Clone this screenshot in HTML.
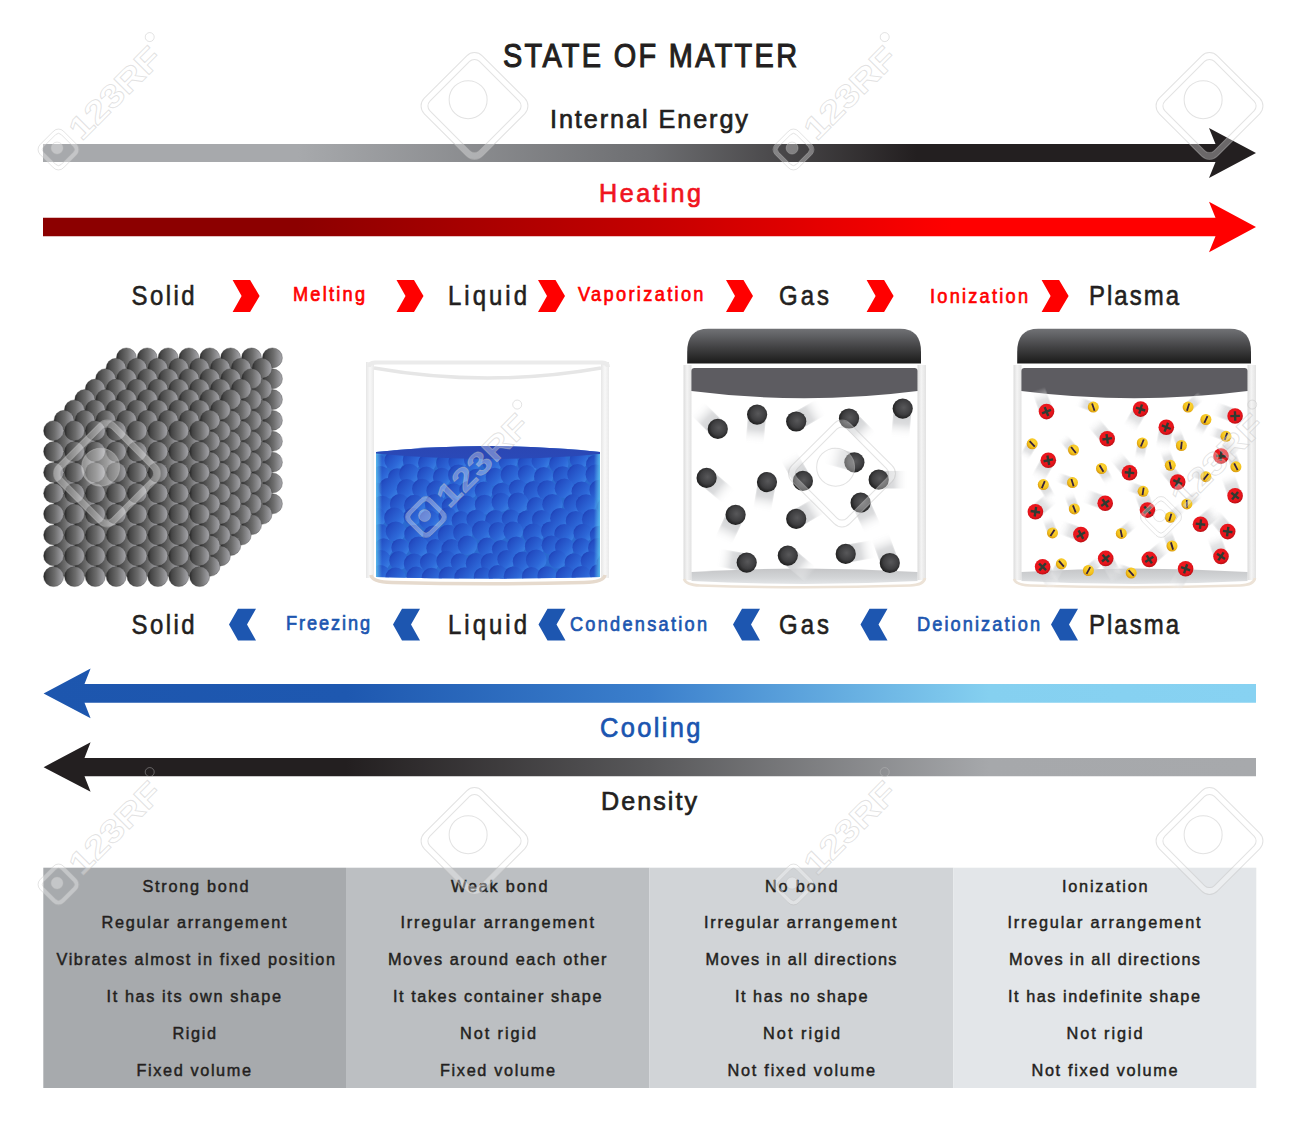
<!DOCTYPE html>
<html><head><meta charset="utf-8"><style>
html,body{margin:0;padding:0;background:#fff;}
body{width:1300px;height:1131px;overflow:hidden;}
svg{display:block;}
text{font-family:"Liberation Sans", sans-serif;}
</style></head><body>
<svg width="1300" height="1131" viewBox="0 0 1300 1131">
<defs>
<linearGradient id="gE" gradientUnits="userSpaceOnUse" x1="43" y1="0" x2="1256" y2="0">
 <stop offset="0" stop-color="#a7a9ac"/><stop offset="0.21" stop-color="#a7a9ac"/>
 <stop offset="0.5" stop-color="#6d6e71"/><stop offset="0.72" stop-color="#231f20"/><stop offset="1" stop-color="#231f20"/></linearGradient>
<linearGradient id="gH" gradientUnits="userSpaceOnUse" x1="43" y1="0" x2="1256" y2="0">
 <stop offset="0" stop-color="#8c0000"/><stop offset="0.21" stop-color="#8c0000"/>
 <stop offset="0.5" stop-color="#c40000"/><stop offset="0.75" stop-color="#ff0000"/><stop offset="1" stop-color="#ff0000"/></linearGradient>
<linearGradient id="gC" gradientUnits="userSpaceOnUse" x1="43" y1="0" x2="1256" y2="0">
 <stop offset="0" stop-color="#1d56ae"/><stop offset="0.25" stop-color="#1e58b0"/>
 <stop offset="0.5" stop-color="#3b7fcc"/><stop offset="0.78" stop-color="#85d0f0"/><stop offset="1" stop-color="#87d2f2"/></linearGradient>
<linearGradient id="gD" gradientUnits="userSpaceOnUse" x1="43" y1="0" x2="1256" y2="0">
 <stop offset="0" stop-color="#231f20"/><stop offset="0.25" stop-color="#231f20"/>
 <stop offset="0.5" stop-color="#58585a"/><stop offset="0.78" stop-color="#a6a8ab"/><stop offset="1" stop-color="#a7a9ac"/></linearGradient>
<linearGradient id="gball" x1="0" y1="0" x2="1" y2="0"><stop offset="0" stop-color="#262626"/><stop offset="0.15" stop-color="#454545"/><stop offset="0.55" stop-color="#6c6c6c"/><stop offset="0.92" stop-color="#9c9ca0"/><stop offset="1" stop-color="#a8a8ac"/></linearGradient><linearGradient id="gwallB" x1="0" y1="0" x2="1" y2="0"><stop offset="0" stop-color="#e6e6e6"/><stop offset="0.5" stop-color="#f8f8f8"/><stop offset="1" stop-color="#e9e9e9"/></linearGradient><circle id="cb" r="10.0" fill="url(#gball)" stroke="#3a3a3a" stroke-width="0.5" stroke-opacity="0.7"/><linearGradient id="gblue" x1="0" y1="0.1" x2="1" y2="0.9"><stop offset="0" stop-color="#1a34a8"/><stop offset="0.2" stop-color="#234dc2"/><stop offset="0.65" stop-color="#2d68d8"/><stop offset="1" stop-color="#3d88e8"/></linearGradient><linearGradient id="gsurf" x1="0" y1="0" x2="0" y2="1"><stop offset="0" stop-color="#2c44ae"/><stop offset="1" stop-color="#2a49b8"/></linearGradient><linearGradient id="gliqbg" x1="0" y1="0" x2="1" y2="0"><stop offset="0" stop-color="#5cc6f0"/><stop offset="0.04" stop-color="#2a6ad0"/><stop offset="0.96" stop-color="#2a6ad0"/><stop offset="1" stop-color="#5cc6f0"/></linearGradient><linearGradient id="gsideL" x1="0" y1="0" x2="1" y2="0"><stop offset="0" stop-color="#62cdf2" stop-opacity="0.95"/><stop offset="1" stop-color="#62cdf2" stop-opacity="0"/></linearGradient><linearGradient id="gsideR" x1="1" y1="0" x2="0" y2="0"><stop offset="0" stop-color="#62cdf2" stop-opacity="0.95"/><stop offset="1" stop-color="#62cdf2" stop-opacity="0"/></linearGradient><clipPath id="liqclip"><path d="M376,452 Q488,440 600,452 L600,577 Q488,580 376,577 Z"/></clipPath><linearGradient id="glid" x1="0" y1="0" x2="0" y2="1"><stop offset="0" stop-color="#707175"/><stop offset="0.15" stop-color="#646568"/><stop offset="0.5" stop-color="#454547"/><stop offset="0.85" stop-color="#272727"/><stop offset="1" stop-color="#1a1a1a"/></linearGradient><linearGradient id="gwallL" x1="0" y1="0" x2="1" y2="0"><stop offset="0" stop-color="#dcdcdc"/><stop offset="0.45" stop-color="#f4f4f4"/><stop offset="1" stop-color="#e2e2e2"/></linearGradient><linearGradient id="gbase" x1="0" y1="0" x2="0" y2="1"><stop offset="0" stop-color="#c4c5c7"/><stop offset="0.6" stop-color="#d3d5d7"/><stop offset="1" stop-color="#e3e5e7"/></linearGradient><linearGradient id="gtrail" x1="0" y1="0" x2="1" y2="0"><stop offset="0" stop-color="#c6c8ca" stop-opacity="1"/><stop offset="0.5" stop-color="#d6d7d9" stop-opacity="0.85"/><stop offset="1" stop-color="#ffffff" stop-opacity="0"/></linearGradient><radialGradient id="ggas" cx="0.55" cy="0.45" r="0.55"><stop offset="0" stop-color="#58585a"/><stop offset="0.65" stop-color="#3e3e40"/><stop offset="1" stop-color="#202020"/></radialGradient><filter id="blur1" x="-30%" y="-50%" width="160%" height="200%"><feGaussianBlur stdDeviation="0.7"/></filter><radialGradient id="gred" cx="0.45" cy="0.4" r="0.6"><stop offset="0" stop-color="#f31a1f"/><stop offset="0.75" stop-color="#e5141b"/><stop offset="1" stop-color="#b80f14"/></radialGradient><radialGradient id="gyel" cx="0.6" cy="0.35" r="0.65"><stop offset="0" stop-color="#ffd83a"/><stop offset="0.7" stop-color="#f2c01a"/><stop offset="1" stop-color="#d99a10"/></radialGradient></defs>
<path d="M43,144 L1215.5,144 L1209,128 L1256,153.0 L1209,178 L1215.5,162 L43,162 Z" fill="url(#gE)"/><path d="M43,217.7 L1215.5,217.7 L1209,201.7 L1256,226.95 L1209,252.2 L1215.5,236.2 L43,236.2 Z" fill="url(#gH)"/><path d="M1256,684.1 L84.5,684.1 L90.6,668.4 L43.6,693.4000000000001 L90.6,718.2 L84.5,702.7 L1256,702.7 Z" fill="url(#gC)"/><path d="M1256,758 L84.5,758 L90.6,742.3 L43.6,767.15 L90.6,791.8 L84.5,776.3 L1256,776.3 Z" fill="url(#gD)"/><path d="M232.6,280 L250.1,280 L259.6,296.0 L250.1,312 L232.6,312 L241.6,296.0 Z" fill="#ff0000"/><path d="M396.5,280 L414.0,280 L423.5,296.0 L414.0,312 L396.5,312 L405.5,296.0 Z" fill="#ff0000"/><path d="M538,280 L555.5,280 L565,296.0 L555.5,312 L538,312 L547,296.0 Z" fill="#ff0000"/><path d="M726,280 L743.5,280 L753,296.0 L743.5,312 L726,312 L735,296.0 Z" fill="#ff0000"/><path d="M866.6,280 L884.1,280 L893.6,296.0 L884.1,312 L866.6,312 L875.6,296.0 Z" fill="#ff0000"/><path d="M1041.6,280 L1059.1,280 L1068.6,296.0 L1059.1,312 L1041.6,312 L1050.6,296.0 Z" fill="#ff0000"/><path d="M229,624.5999999999999 L238,608.8 L256,608.8 L247,624.5999999999999 L256,640.4 L238,640.4 Z" fill="#1d56b0"/><path d="M393,624.5999999999999 L402,608.8 L420,608.8 L411,624.5999999999999 L420,640.4 L402,640.4 Z" fill="#1d56b0"/><path d="M538.5,624.5999999999999 L547.5,608.8 L565.5,608.8 L556.5,624.5999999999999 L565.5,640.4 L547.5,640.4 Z" fill="#1d56b0"/><path d="M733,624.5999999999999 L742,608.8 L760,608.8 L751,624.5999999999999 L760,640.4 L742,640.4 Z" fill="#1d56b0"/><path d="M860.5,624.5999999999999 L869.5,608.8 L887.5,608.8 L878.5,624.5999999999999 L887.5,640.4 L869.5,640.4 Z" fill="#1d56b0"/><path d="M1051,624.5999999999999 L1060,608.8 L1078,608.8 L1069,624.5999999999999 L1078,640.4 L1060,640.4 Z" fill="#1d56b0"/><rect x="43.3" y="867.7" width="302.7" height="220.3" fill="#a7aaad"/><rect x="346" y="867.7" width="303.5" height="220.3" fill="#bcbfc2"/><rect x="649.5" y="867.7" width="303.7" height="220.3" fill="#d1d4d7"/><rect x="953.2" y="867.7" width="303.1" height="220.3" fill="#e3e6e9"/><use href="#cb" x="126.4" y="357.9"/><use href="#cb" x="147.2" y="357.9"/><use href="#cb" x="168.1" y="357.9"/><use href="#cb" x="188.9" y="357.9"/><use href="#cb" x="209.8" y="357.9"/><use href="#cb" x="230.6" y="357.9"/><use href="#cb" x="251.5" y="357.9"/><use href="#cb" x="272.4" y="357.9"/><use href="#cb" x="126.4" y="378.8"/><use href="#cb" x="147.2" y="378.8"/><use href="#cb" x="168.1" y="378.8"/><use href="#cb" x="188.9" y="378.8"/><use href="#cb" x="209.8" y="378.8"/><use href="#cb" x="230.6" y="378.8"/><use href="#cb" x="251.5" y="378.8"/><use href="#cb" x="272.4" y="378.8"/><use href="#cb" x="126.4" y="399.6"/><use href="#cb" x="147.2" y="399.6"/><use href="#cb" x="168.1" y="399.6"/><use href="#cb" x="188.9" y="399.6"/><use href="#cb" x="209.8" y="399.6"/><use href="#cb" x="230.6" y="399.6"/><use href="#cb" x="251.5" y="399.6"/><use href="#cb" x="272.4" y="399.6"/><use href="#cb" x="126.4" y="420.4"/><use href="#cb" x="147.2" y="420.4"/><use href="#cb" x="168.1" y="420.4"/><use href="#cb" x="188.9" y="420.4"/><use href="#cb" x="209.8" y="420.4"/><use href="#cb" x="230.6" y="420.4"/><use href="#cb" x="251.5" y="420.4"/><use href="#cb" x="272.4" y="420.4"/><use href="#cb" x="126.4" y="441.3"/><use href="#cb" x="147.2" y="441.3"/><use href="#cb" x="168.1" y="441.3"/><use href="#cb" x="188.9" y="441.3"/><use href="#cb" x="209.8" y="441.3"/><use href="#cb" x="230.6" y="441.3"/><use href="#cb" x="251.5" y="441.3"/><use href="#cb" x="272.4" y="441.3"/><use href="#cb" x="126.4" y="462.2"/><use href="#cb" x="147.2" y="462.2"/><use href="#cb" x="168.1" y="462.2"/><use href="#cb" x="188.9" y="462.2"/><use href="#cb" x="209.8" y="462.2"/><use href="#cb" x="230.6" y="462.2"/><use href="#cb" x="251.5" y="462.2"/><use href="#cb" x="272.4" y="462.2"/><use href="#cb" x="126.4" y="483.0"/><use href="#cb" x="147.2" y="483.0"/><use href="#cb" x="168.1" y="483.0"/><use href="#cb" x="188.9" y="483.0"/><use href="#cb" x="209.8" y="483.0"/><use href="#cb" x="230.6" y="483.0"/><use href="#cb" x="251.5" y="483.0"/><use href="#cb" x="272.4" y="483.0"/><use href="#cb" x="126.4" y="503.8"/><use href="#cb" x="147.2" y="503.8"/><use href="#cb" x="168.1" y="503.8"/><use href="#cb" x="188.9" y="503.8"/><use href="#cb" x="209.8" y="503.8"/><use href="#cb" x="230.6" y="503.8"/><use href="#cb" x="251.5" y="503.8"/><use href="#cb" x="272.4" y="503.8"/><use href="#cb" x="116.0" y="368.3"/><use href="#cb" x="136.9" y="368.3"/><use href="#cb" x="157.7" y="368.3"/><use href="#cb" x="178.6" y="368.3"/><use href="#cb" x="199.4" y="368.3"/><use href="#cb" x="220.2" y="368.3"/><use href="#cb" x="241.1" y="368.3"/><use href="#cb" x="262.0" y="368.3"/><use href="#cb" x="116.0" y="389.1"/><use href="#cb" x="136.9" y="389.1"/><use href="#cb" x="157.7" y="389.1"/><use href="#cb" x="178.6" y="389.1"/><use href="#cb" x="199.4" y="389.1"/><use href="#cb" x="220.2" y="389.1"/><use href="#cb" x="241.1" y="389.1"/><use href="#cb" x="262.0" y="389.1"/><use href="#cb" x="116.0" y="410.0"/><use href="#cb" x="136.9" y="410.0"/><use href="#cb" x="157.7" y="410.0"/><use href="#cb" x="178.6" y="410.0"/><use href="#cb" x="199.4" y="410.0"/><use href="#cb" x="220.2" y="410.0"/><use href="#cb" x="241.1" y="410.0"/><use href="#cb" x="262.0" y="410.0"/><use href="#cb" x="116.0" y="430.9"/><use href="#cb" x="136.9" y="430.9"/><use href="#cb" x="157.7" y="430.9"/><use href="#cb" x="178.6" y="430.9"/><use href="#cb" x="199.4" y="430.9"/><use href="#cb" x="220.2" y="430.9"/><use href="#cb" x="241.1" y="430.9"/><use href="#cb" x="262.0" y="430.9"/><use href="#cb" x="116.0" y="451.7"/><use href="#cb" x="136.9" y="451.7"/><use href="#cb" x="157.7" y="451.7"/><use href="#cb" x="178.6" y="451.7"/><use href="#cb" x="199.4" y="451.7"/><use href="#cb" x="220.2" y="451.7"/><use href="#cb" x="241.1" y="451.7"/><use href="#cb" x="262.0" y="451.7"/><use href="#cb" x="116.0" y="472.6"/><use href="#cb" x="136.9" y="472.6"/><use href="#cb" x="157.7" y="472.6"/><use href="#cb" x="178.6" y="472.6"/><use href="#cb" x="199.4" y="472.6"/><use href="#cb" x="220.2" y="472.6"/><use href="#cb" x="241.1" y="472.6"/><use href="#cb" x="262.0" y="472.6"/><use href="#cb" x="116.0" y="493.4"/><use href="#cb" x="136.9" y="493.4"/><use href="#cb" x="157.7" y="493.4"/><use href="#cb" x="178.6" y="493.4"/><use href="#cb" x="199.4" y="493.4"/><use href="#cb" x="220.2" y="493.4"/><use href="#cb" x="241.1" y="493.4"/><use href="#cb" x="262.0" y="493.4"/><use href="#cb" x="116.0" y="514.2"/><use href="#cb" x="136.9" y="514.2"/><use href="#cb" x="157.7" y="514.2"/><use href="#cb" x="178.6" y="514.2"/><use href="#cb" x="199.4" y="514.2"/><use href="#cb" x="220.2" y="514.2"/><use href="#cb" x="241.1" y="514.2"/><use href="#cb" x="262.0" y="514.2"/><use href="#cb" x="105.6" y="378.7"/><use href="#cb" x="126.5" y="378.7"/><use href="#cb" x="147.3" y="378.7"/><use href="#cb" x="168.2" y="378.7"/><use href="#cb" x="189.0" y="378.7"/><use href="#cb" x="209.8" y="378.7"/><use href="#cb" x="230.7" y="378.7"/><use href="#cb" x="251.6" y="378.7"/><use href="#cb" x="105.6" y="399.6"/><use href="#cb" x="126.5" y="399.6"/><use href="#cb" x="147.3" y="399.6"/><use href="#cb" x="168.2" y="399.6"/><use href="#cb" x="189.0" y="399.6"/><use href="#cb" x="209.8" y="399.6"/><use href="#cb" x="230.7" y="399.6"/><use href="#cb" x="251.6" y="399.6"/><use href="#cb" x="105.6" y="420.4"/><use href="#cb" x="126.5" y="420.4"/><use href="#cb" x="147.3" y="420.4"/><use href="#cb" x="168.2" y="420.4"/><use href="#cb" x="189.0" y="420.4"/><use href="#cb" x="209.8" y="420.4"/><use href="#cb" x="230.7" y="420.4"/><use href="#cb" x="251.6" y="420.4"/><use href="#cb" x="105.6" y="441.2"/><use href="#cb" x="126.5" y="441.2"/><use href="#cb" x="147.3" y="441.2"/><use href="#cb" x="168.2" y="441.2"/><use href="#cb" x="189.0" y="441.2"/><use href="#cb" x="209.8" y="441.2"/><use href="#cb" x="230.7" y="441.2"/><use href="#cb" x="251.6" y="441.2"/><use href="#cb" x="105.6" y="462.1"/><use href="#cb" x="126.5" y="462.1"/><use href="#cb" x="147.3" y="462.1"/><use href="#cb" x="168.2" y="462.1"/><use href="#cb" x="189.0" y="462.1"/><use href="#cb" x="209.8" y="462.1"/><use href="#cb" x="230.7" y="462.1"/><use href="#cb" x="251.6" y="462.1"/><use href="#cb" x="105.6" y="483.0"/><use href="#cb" x="126.5" y="483.0"/><use href="#cb" x="147.3" y="483.0"/><use href="#cb" x="168.2" y="483.0"/><use href="#cb" x="189.0" y="483.0"/><use href="#cb" x="209.8" y="483.0"/><use href="#cb" x="230.7" y="483.0"/><use href="#cb" x="251.6" y="483.0"/><use href="#cb" x="105.6" y="503.8"/><use href="#cb" x="126.5" y="503.8"/><use href="#cb" x="147.3" y="503.8"/><use href="#cb" x="168.2" y="503.8"/><use href="#cb" x="189.0" y="503.8"/><use href="#cb" x="209.8" y="503.8"/><use href="#cb" x="230.7" y="503.8"/><use href="#cb" x="251.6" y="503.8"/><use href="#cb" x="105.6" y="524.6"/><use href="#cb" x="126.5" y="524.6"/><use href="#cb" x="147.3" y="524.6"/><use href="#cb" x="168.2" y="524.6"/><use href="#cb" x="189.0" y="524.6"/><use href="#cb" x="209.8" y="524.6"/><use href="#cb" x="230.7" y="524.6"/><use href="#cb" x="251.6" y="524.6"/><use href="#cb" x="95.2" y="389.1"/><use href="#cb" x="116.1" y="389.1"/><use href="#cb" x="136.9" y="389.1"/><use href="#cb" x="157.8" y="389.1"/><use href="#cb" x="178.6" y="389.1"/><use href="#cb" x="199.4" y="389.1"/><use href="#cb" x="220.3" y="389.1"/><use href="#cb" x="241.2" y="389.1"/><use href="#cb" x="95.2" y="409.9"/><use href="#cb" x="116.1" y="409.9"/><use href="#cb" x="136.9" y="409.9"/><use href="#cb" x="157.8" y="409.9"/><use href="#cb" x="178.6" y="409.9"/><use href="#cb" x="199.4" y="409.9"/><use href="#cb" x="220.3" y="409.9"/><use href="#cb" x="241.2" y="409.9"/><use href="#cb" x="95.2" y="430.8"/><use href="#cb" x="116.1" y="430.8"/><use href="#cb" x="136.9" y="430.8"/><use href="#cb" x="157.8" y="430.8"/><use href="#cb" x="178.6" y="430.8"/><use href="#cb" x="199.4" y="430.8"/><use href="#cb" x="220.3" y="430.8"/><use href="#cb" x="241.2" y="430.8"/><use href="#cb" x="95.2" y="451.6"/><use href="#cb" x="116.1" y="451.6"/><use href="#cb" x="136.9" y="451.6"/><use href="#cb" x="157.8" y="451.6"/><use href="#cb" x="178.6" y="451.6"/><use href="#cb" x="199.4" y="451.6"/><use href="#cb" x="220.3" y="451.6"/><use href="#cb" x="241.2" y="451.6"/><use href="#cb" x="95.2" y="472.5"/><use href="#cb" x="116.1" y="472.5"/><use href="#cb" x="136.9" y="472.5"/><use href="#cb" x="157.8" y="472.5"/><use href="#cb" x="178.6" y="472.5"/><use href="#cb" x="199.4" y="472.5"/><use href="#cb" x="220.3" y="472.5"/><use href="#cb" x="241.2" y="472.5"/><use href="#cb" x="95.2" y="493.4"/><use href="#cb" x="116.1" y="493.4"/><use href="#cb" x="136.9" y="493.4"/><use href="#cb" x="157.8" y="493.4"/><use href="#cb" x="178.6" y="493.4"/><use href="#cb" x="199.4" y="493.4"/><use href="#cb" x="220.3" y="493.4"/><use href="#cb" x="241.2" y="493.4"/><use href="#cb" x="95.2" y="514.2"/><use href="#cb" x="116.1" y="514.2"/><use href="#cb" x="136.9" y="514.2"/><use href="#cb" x="157.8" y="514.2"/><use href="#cb" x="178.6" y="514.2"/><use href="#cb" x="199.4" y="514.2"/><use href="#cb" x="220.3" y="514.2"/><use href="#cb" x="241.2" y="514.2"/><use href="#cb" x="95.2" y="535.0"/><use href="#cb" x="116.1" y="535.0"/><use href="#cb" x="136.9" y="535.0"/><use href="#cb" x="157.8" y="535.0"/><use href="#cb" x="178.6" y="535.0"/><use href="#cb" x="199.4" y="535.0"/><use href="#cb" x="220.3" y="535.0"/><use href="#cb" x="241.2" y="535.0"/><use href="#cb" x="84.8" y="399.5"/><use href="#cb" x="105.7" y="399.5"/><use href="#cb" x="126.5" y="399.5"/><use href="#cb" x="147.4" y="399.5"/><use href="#cb" x="168.2" y="399.5"/><use href="#cb" x="189.1" y="399.5"/><use href="#cb" x="209.9" y="399.5"/><use href="#cb" x="230.8" y="399.5"/><use href="#cb" x="84.8" y="420.4"/><use href="#cb" x="105.7" y="420.4"/><use href="#cb" x="126.5" y="420.4"/><use href="#cb" x="147.4" y="420.4"/><use href="#cb" x="168.2" y="420.4"/><use href="#cb" x="189.1" y="420.4"/><use href="#cb" x="209.9" y="420.4"/><use href="#cb" x="230.8" y="420.4"/><use href="#cb" x="84.8" y="441.2"/><use href="#cb" x="105.7" y="441.2"/><use href="#cb" x="126.5" y="441.2"/><use href="#cb" x="147.4" y="441.2"/><use href="#cb" x="168.2" y="441.2"/><use href="#cb" x="189.1" y="441.2"/><use href="#cb" x="209.9" y="441.2"/><use href="#cb" x="230.8" y="441.2"/><use href="#cb" x="84.8" y="462.1"/><use href="#cb" x="105.7" y="462.1"/><use href="#cb" x="126.5" y="462.1"/><use href="#cb" x="147.4" y="462.1"/><use href="#cb" x="168.2" y="462.1"/><use href="#cb" x="189.1" y="462.1"/><use href="#cb" x="209.9" y="462.1"/><use href="#cb" x="230.8" y="462.1"/><use href="#cb" x="84.8" y="482.9"/><use href="#cb" x="105.7" y="482.9"/><use href="#cb" x="126.5" y="482.9"/><use href="#cb" x="147.4" y="482.9"/><use href="#cb" x="168.2" y="482.9"/><use href="#cb" x="189.1" y="482.9"/><use href="#cb" x="209.9" y="482.9"/><use href="#cb" x="230.8" y="482.9"/><use href="#cb" x="84.8" y="503.8"/><use href="#cb" x="105.7" y="503.8"/><use href="#cb" x="126.5" y="503.8"/><use href="#cb" x="147.4" y="503.8"/><use href="#cb" x="168.2" y="503.8"/><use href="#cb" x="189.1" y="503.8"/><use href="#cb" x="209.9" y="503.8"/><use href="#cb" x="230.8" y="503.8"/><use href="#cb" x="84.8" y="524.6"/><use href="#cb" x="105.7" y="524.6"/><use href="#cb" x="126.5" y="524.6"/><use href="#cb" x="147.4" y="524.6"/><use href="#cb" x="168.2" y="524.6"/><use href="#cb" x="189.1" y="524.6"/><use href="#cb" x="209.9" y="524.6"/><use href="#cb" x="230.8" y="524.6"/><use href="#cb" x="84.8" y="545.4"/><use href="#cb" x="105.7" y="545.4"/><use href="#cb" x="126.5" y="545.4"/><use href="#cb" x="147.4" y="545.4"/><use href="#cb" x="168.2" y="545.4"/><use href="#cb" x="189.1" y="545.4"/><use href="#cb" x="209.9" y="545.4"/><use href="#cb" x="230.8" y="545.4"/><use href="#cb" x="74.4" y="409.9"/><use href="#cb" x="95.2" y="409.9"/><use href="#cb" x="116.1" y="409.9"/><use href="#cb" x="137.0" y="409.9"/><use href="#cb" x="157.8" y="409.9"/><use href="#cb" x="178.7" y="409.9"/><use href="#cb" x="199.5" y="409.9"/><use href="#cb" x="220.4" y="409.9"/><use href="#cb" x="74.4" y="430.8"/><use href="#cb" x="95.2" y="430.8"/><use href="#cb" x="116.1" y="430.8"/><use href="#cb" x="137.0" y="430.8"/><use href="#cb" x="157.8" y="430.8"/><use href="#cb" x="178.7" y="430.8"/><use href="#cb" x="199.5" y="430.8"/><use href="#cb" x="220.4" y="430.8"/><use href="#cb" x="74.4" y="451.6"/><use href="#cb" x="95.2" y="451.6"/><use href="#cb" x="116.1" y="451.6"/><use href="#cb" x="137.0" y="451.6"/><use href="#cb" x="157.8" y="451.6"/><use href="#cb" x="178.7" y="451.6"/><use href="#cb" x="199.5" y="451.6"/><use href="#cb" x="220.4" y="451.6"/><use href="#cb" x="74.4" y="472.4"/><use href="#cb" x="95.2" y="472.4"/><use href="#cb" x="116.1" y="472.4"/><use href="#cb" x="137.0" y="472.4"/><use href="#cb" x="157.8" y="472.4"/><use href="#cb" x="178.7" y="472.4"/><use href="#cb" x="199.5" y="472.4"/><use href="#cb" x="220.4" y="472.4"/><use href="#cb" x="74.4" y="493.3"/><use href="#cb" x="95.2" y="493.3"/><use href="#cb" x="116.1" y="493.3"/><use href="#cb" x="137.0" y="493.3"/><use href="#cb" x="157.8" y="493.3"/><use href="#cb" x="178.7" y="493.3"/><use href="#cb" x="199.5" y="493.3"/><use href="#cb" x="220.4" y="493.3"/><use href="#cb" x="74.4" y="514.2"/><use href="#cb" x="95.2" y="514.2"/><use href="#cb" x="116.1" y="514.2"/><use href="#cb" x="137.0" y="514.2"/><use href="#cb" x="157.8" y="514.2"/><use href="#cb" x="178.7" y="514.2"/><use href="#cb" x="199.5" y="514.2"/><use href="#cb" x="220.4" y="514.2"/><use href="#cb" x="74.4" y="535.0"/><use href="#cb" x="95.2" y="535.0"/><use href="#cb" x="116.1" y="535.0"/><use href="#cb" x="137.0" y="535.0"/><use href="#cb" x="157.8" y="535.0"/><use href="#cb" x="178.7" y="535.0"/><use href="#cb" x="199.5" y="535.0"/><use href="#cb" x="220.4" y="535.0"/><use href="#cb" x="74.4" y="555.9"/><use href="#cb" x="95.2" y="555.9"/><use href="#cb" x="116.1" y="555.9"/><use href="#cb" x="137.0" y="555.9"/><use href="#cb" x="157.8" y="555.9"/><use href="#cb" x="178.7" y="555.9"/><use href="#cb" x="199.5" y="555.9"/><use href="#cb" x="220.4" y="555.9"/><use href="#cb" x="64.0" y="420.3"/><use href="#cb" x="84.9" y="420.3"/><use href="#cb" x="105.7" y="420.3"/><use href="#cb" x="126.6" y="420.3"/><use href="#cb" x="147.4" y="420.3"/><use href="#cb" x="168.2" y="420.3"/><use href="#cb" x="189.1" y="420.3"/><use href="#cb" x="210.0" y="420.3"/><use href="#cb" x="64.0" y="441.2"/><use href="#cb" x="84.9" y="441.2"/><use href="#cb" x="105.7" y="441.2"/><use href="#cb" x="126.6" y="441.2"/><use href="#cb" x="147.4" y="441.2"/><use href="#cb" x="168.2" y="441.2"/><use href="#cb" x="189.1" y="441.2"/><use href="#cb" x="210.0" y="441.2"/><use href="#cb" x="64.0" y="462.0"/><use href="#cb" x="84.9" y="462.0"/><use href="#cb" x="105.7" y="462.0"/><use href="#cb" x="126.6" y="462.0"/><use href="#cb" x="147.4" y="462.0"/><use href="#cb" x="168.2" y="462.0"/><use href="#cb" x="189.1" y="462.0"/><use href="#cb" x="210.0" y="462.0"/><use href="#cb" x="64.0" y="482.9"/><use href="#cb" x="84.9" y="482.9"/><use href="#cb" x="105.7" y="482.9"/><use href="#cb" x="126.6" y="482.9"/><use href="#cb" x="147.4" y="482.9"/><use href="#cb" x="168.2" y="482.9"/><use href="#cb" x="189.1" y="482.9"/><use href="#cb" x="210.0" y="482.9"/><use href="#cb" x="64.0" y="503.7"/><use href="#cb" x="84.9" y="503.7"/><use href="#cb" x="105.7" y="503.7"/><use href="#cb" x="126.6" y="503.7"/><use href="#cb" x="147.4" y="503.7"/><use href="#cb" x="168.2" y="503.7"/><use href="#cb" x="189.1" y="503.7"/><use href="#cb" x="210.0" y="503.7"/><use href="#cb" x="64.0" y="524.6"/><use href="#cb" x="84.9" y="524.6"/><use href="#cb" x="105.7" y="524.6"/><use href="#cb" x="126.6" y="524.6"/><use href="#cb" x="147.4" y="524.6"/><use href="#cb" x="168.2" y="524.6"/><use href="#cb" x="189.1" y="524.6"/><use href="#cb" x="210.0" y="524.6"/><use href="#cb" x="64.0" y="545.4"/><use href="#cb" x="84.9" y="545.4"/><use href="#cb" x="105.7" y="545.4"/><use href="#cb" x="126.6" y="545.4"/><use href="#cb" x="147.4" y="545.4"/><use href="#cb" x="168.2" y="545.4"/><use href="#cb" x="189.1" y="545.4"/><use href="#cb" x="210.0" y="545.4"/><use href="#cb" x="64.0" y="566.2"/><use href="#cb" x="84.9" y="566.2"/><use href="#cb" x="105.7" y="566.2"/><use href="#cb" x="126.6" y="566.2"/><use href="#cb" x="147.4" y="566.2"/><use href="#cb" x="168.2" y="566.2"/><use href="#cb" x="189.1" y="566.2"/><use href="#cb" x="210.0" y="566.2"/><use href="#cb" x="53.6" y="430.7"/><use href="#cb" x="74.5" y="430.7"/><use href="#cb" x="95.3" y="430.7"/><use href="#cb" x="116.2" y="430.7"/><use href="#cb" x="137.0" y="430.7"/><use href="#cb" x="157.8" y="430.7"/><use href="#cb" x="178.7" y="430.7"/><use href="#cb" x="199.6" y="430.7"/><use href="#cb" x="53.6" y="451.6"/><use href="#cb" x="74.5" y="451.6"/><use href="#cb" x="95.3" y="451.6"/><use href="#cb" x="116.2" y="451.6"/><use href="#cb" x="137.0" y="451.6"/><use href="#cb" x="157.8" y="451.6"/><use href="#cb" x="178.7" y="451.6"/><use href="#cb" x="199.6" y="451.6"/><use href="#cb" x="53.6" y="472.4"/><use href="#cb" x="74.5" y="472.4"/><use href="#cb" x="95.3" y="472.4"/><use href="#cb" x="116.2" y="472.4"/><use href="#cb" x="137.0" y="472.4"/><use href="#cb" x="157.8" y="472.4"/><use href="#cb" x="178.7" y="472.4"/><use href="#cb" x="199.6" y="472.4"/><use href="#cb" x="53.6" y="493.2"/><use href="#cb" x="74.5" y="493.2"/><use href="#cb" x="95.3" y="493.2"/><use href="#cb" x="116.2" y="493.2"/><use href="#cb" x="137.0" y="493.2"/><use href="#cb" x="157.8" y="493.2"/><use href="#cb" x="178.7" y="493.2"/><use href="#cb" x="199.6" y="493.2"/><use href="#cb" x="53.6" y="514.1"/><use href="#cb" x="74.5" y="514.1"/><use href="#cb" x="95.3" y="514.1"/><use href="#cb" x="116.2" y="514.1"/><use href="#cb" x="137.0" y="514.1"/><use href="#cb" x="157.8" y="514.1"/><use href="#cb" x="178.7" y="514.1"/><use href="#cb" x="199.6" y="514.1"/><use href="#cb" x="53.6" y="535.0"/><use href="#cb" x="74.5" y="535.0"/><use href="#cb" x="95.3" y="535.0"/><use href="#cb" x="116.2" y="535.0"/><use href="#cb" x="137.0" y="535.0"/><use href="#cb" x="157.8" y="535.0"/><use href="#cb" x="178.7" y="535.0"/><use href="#cb" x="199.6" y="535.0"/><use href="#cb" x="53.6" y="555.8"/><use href="#cb" x="74.5" y="555.8"/><use href="#cb" x="95.3" y="555.8"/><use href="#cb" x="116.2" y="555.8"/><use href="#cb" x="137.0" y="555.8"/><use href="#cb" x="157.8" y="555.8"/><use href="#cb" x="178.7" y="555.8"/><use href="#cb" x="199.6" y="555.8"/><use href="#cb" x="53.6" y="576.6"/><use href="#cb" x="74.5" y="576.6"/><use href="#cb" x="95.3" y="576.6"/><use href="#cb" x="116.2" y="576.6"/><use href="#cb" x="137.0" y="576.6"/><use href="#cb" x="157.8" y="576.6"/><use href="#cb" x="178.7" y="576.6"/><use href="#cb" x="199.6" y="576.6"/><rect x="366" y="362" width="8" height="216" fill="url(#gwallB)"/><rect x="601" y="362" width="8" height="216" fill="url(#gwallB)"/><path d="M367,367 Q367,360.5 375,360.5 L602,360.5 Q610,360.5 610,367 L606,367 Q605,364.5 600,364.5 L377,364.5 Q371,364.5 371,367 Z" fill="#ebebeb"/><path d="M374,368 Q488,388 601,368" fill="none" stroke="#e6e6e6" stroke-width="3.5"/><g clip-path="url(#liqclip)"><rect x="370" y="430" width="240" height="160" fill="url(#gliqbg)"/><circle cx="377.7" cy="464.1" r="9.7" fill="url(#gblue)"/><circle cx="394.3" cy="460.4" r="9.8" fill="url(#gblue)"/><circle cx="412.2" cy="460.0" r="9.5" fill="url(#gblue)"/><circle cx="427.1" cy="463.0" r="9.1" fill="url(#gblue)"/><circle cx="446.1" cy="462.8" r="9.9" fill="url(#gblue)"/><circle cx="457.5" cy="462.1" r="9.1" fill="url(#gblue)"/><circle cx="473.6" cy="459.7" r="9.7" fill="url(#gblue)"/><circle cx="492.3" cy="462.1" r="10.0" fill="url(#gblue)"/><circle cx="508.1" cy="461.8" r="9.4" fill="url(#gblue)"/><circle cx="527.9" cy="463.7" r="10.1" fill="url(#gblue)"/><circle cx="540.6" cy="460.9" r="9.1" fill="url(#gblue)"/><circle cx="558.8" cy="463.7" r="9.6" fill="url(#gblue)"/><circle cx="579.0" cy="459.5" r="9.3" fill="url(#gblue)"/><circle cx="595.6" cy="464.4" r="9.6" fill="url(#gblue)"/><circle cx="380.7" cy="475.0" r="9.1" fill="url(#gblue)"/><circle cx="397.2" cy="477.5" r="9.2" fill="url(#gblue)"/><circle cx="409.3" cy="474.0" r="10.2" fill="url(#gblue)"/><circle cx="426.3" cy="475.9" r="9.3" fill="url(#gblue)"/><circle cx="442.0" cy="476.9" r="9.2" fill="url(#gblue)"/><circle cx="458.5" cy="475.0" r="10.5" fill="url(#gblue)"/><circle cx="476.6" cy="478.1" r="9.3" fill="url(#gblue)"/><circle cx="494.9" cy="476.9" r="9.2" fill="url(#gblue)"/><circle cx="510.8" cy="475.0" r="10.2" fill="url(#gblue)"/><circle cx="526.9" cy="474.1" r="9.1" fill="url(#gblue)"/><circle cx="543.6" cy="476.7" r="9.6" fill="url(#gblue)"/><circle cx="562.7" cy="476.1" r="9.9" fill="url(#gblue)"/><circle cx="577.6" cy="474.5" r="10.4" fill="url(#gblue)"/><circle cx="595.6" cy="474.6" r="10.1" fill="url(#gblue)"/><circle cx="376.2" cy="492.3" r="9.9" fill="url(#gblue)"/><circle cx="389.0" cy="488.1" r="10.4" fill="url(#gblue)"/><circle cx="406.8" cy="489.2" r="10.2" fill="url(#gblue)"/><circle cx="422.1" cy="488.8" r="10.1" fill="url(#gblue)"/><circle cx="436.6" cy="490.7" r="10.3" fill="url(#gblue)"/><circle cx="453.7" cy="492.5" r="9.3" fill="url(#gblue)"/><circle cx="468.3" cy="490.1" r="9.1" fill="url(#gblue)"/><circle cx="483.9" cy="490.8" r="9.2" fill="url(#gblue)"/><circle cx="501.9" cy="492.8" r="10.0" fill="url(#gblue)"/><circle cx="517.9" cy="488.6" r="9.1" fill="url(#gblue)"/><circle cx="533.8" cy="491.4" r="10.4" fill="url(#gblue)"/><circle cx="547.3" cy="490.3" r="10.1" fill="url(#gblue)"/><circle cx="564.5" cy="488.3" r="9.8" fill="url(#gblue)"/><circle cx="581.6" cy="491.6" r="10.1" fill="url(#gblue)"/><circle cx="599.3" cy="489.7" r="10.0" fill="url(#gblue)"/><circle cx="382.1" cy="506.1" r="10.3" fill="url(#gblue)"/><circle cx="399.7" cy="504.0" r="9.9" fill="url(#gblue)"/><circle cx="414.5" cy="505.3" r="10.5" fill="url(#gblue)"/><circle cx="435.1" cy="504.0" r="10.1" fill="url(#gblue)"/><circle cx="450.8" cy="506.3" r="9.1" fill="url(#gblue)"/><circle cx="466.6" cy="505.1" r="9.7" fill="url(#gblue)"/><circle cx="484.7" cy="504.6" r="9.9" fill="url(#gblue)"/><circle cx="501.1" cy="502.2" r="9.5" fill="url(#gblue)"/><circle cx="518.1" cy="502.9" r="10.4" fill="url(#gblue)"/><circle cx="536.2" cy="506.6" r="9.5" fill="url(#gblue)"/><circle cx="552.4" cy="504.3" r="10.2" fill="url(#gblue)"/><circle cx="573.3" cy="504.0" r="9.9" fill="url(#gblue)"/><circle cx="586.1" cy="504.6" r="10.3" fill="url(#gblue)"/><circle cx="606.3" cy="506.9" r="9.4" fill="url(#gblue)"/><circle cx="376.5" cy="517.4" r="9.6" fill="url(#gblue)"/><circle cx="394.4" cy="517.9" r="10.3" fill="url(#gblue)"/><circle cx="412.6" cy="516.7" r="9.0" fill="url(#gblue)"/><circle cx="429.0" cy="519.8" r="9.9" fill="url(#gblue)"/><circle cx="447.7" cy="516.4" r="9.2" fill="url(#gblue)"/><circle cx="461.0" cy="520.4" r="9.4" fill="url(#gblue)"/><circle cx="476.1" cy="519.4" r="9.7" fill="url(#gblue)"/><circle cx="495.6" cy="520.3" r="10.4" fill="url(#gblue)"/><circle cx="511.0" cy="518.7" r="9.3" fill="url(#gblue)"/><circle cx="526.6" cy="519.9" r="9.3" fill="url(#gblue)"/><circle cx="541.7" cy="519.8" r="9.8" fill="url(#gblue)"/><circle cx="560.3" cy="518.3" r="10.2" fill="url(#gblue)"/><circle cx="575.8" cy="521.0" r="10.1" fill="url(#gblue)"/><circle cx="592.3" cy="519.4" r="10.4" fill="url(#gblue)"/><circle cx="380.3" cy="534.5" r="10.4" fill="url(#gblue)"/><circle cx="395.8" cy="531.5" r="10.1" fill="url(#gblue)"/><circle cx="413.5" cy="534.1" r="9.3" fill="url(#gblue)"/><circle cx="433.0" cy="535.4" r="9.8" fill="url(#gblue)"/><circle cx="448.0" cy="535.0" r="10.3" fill="url(#gblue)"/><circle cx="462.9" cy="532.7" r="9.8" fill="url(#gblue)"/><circle cx="482.1" cy="530.6" r="10.2" fill="url(#gblue)"/><circle cx="498.1" cy="531.4" r="9.5" fill="url(#gblue)"/><circle cx="513.2" cy="531.2" r="9.8" fill="url(#gblue)"/><circle cx="533.3" cy="533.9" r="10.4" fill="url(#gblue)"/><circle cx="550.3" cy="530.9" r="9.3" fill="url(#gblue)"/><circle cx="564.2" cy="534.1" r="10.0" fill="url(#gblue)"/><circle cx="583.0" cy="533.3" r="9.5" fill="url(#gblue)"/><circle cx="599.1" cy="535.0" r="9.3" fill="url(#gblue)"/><circle cx="383.7" cy="547.6" r="9.3" fill="url(#gblue)"/><circle cx="400.3" cy="547.7" r="9.0" fill="url(#gblue)"/><circle cx="418.7" cy="546.7" r="10.2" fill="url(#gblue)"/><circle cx="435.4" cy="548.2" r="9.1" fill="url(#gblue)"/><circle cx="451.7" cy="549.5" r="10.4" fill="url(#gblue)"/><circle cx="467.5" cy="545.3" r="9.7" fill="url(#gblue)"/><circle cx="487.0" cy="547.1" r="9.5" fill="url(#gblue)"/><circle cx="501.1" cy="549.3" r="9.2" fill="url(#gblue)"/><circle cx="516.4" cy="545.7" r="9.3" fill="url(#gblue)"/><circle cx="534.8" cy="546.5" r="9.9" fill="url(#gblue)"/><circle cx="551.4" cy="545.3" r="9.8" fill="url(#gblue)"/><circle cx="564.7" cy="547.4" r="9.7" fill="url(#gblue)"/><circle cx="581.6" cy="547.3" r="9.2" fill="url(#gblue)"/><circle cx="597.8" cy="547.9" r="9.8" fill="url(#gblue)"/><circle cx="380.8" cy="560.1" r="10.1" fill="url(#gblue)"/><circle cx="398.7" cy="560.5" r="9.5" fill="url(#gblue)"/><circle cx="414.1" cy="563.9" r="10.3" fill="url(#gblue)"/><circle cx="429.3" cy="562.5" r="9.4" fill="url(#gblue)"/><circle cx="446.5" cy="561.0" r="10.2" fill="url(#gblue)"/><circle cx="459.8" cy="562.3" r="9.0" fill="url(#gblue)"/><circle cx="476.2" cy="563.5" r="10.5" fill="url(#gblue)"/><circle cx="490.5" cy="562.7" r="9.8" fill="url(#gblue)"/><circle cx="506.5" cy="559.3" r="9.2" fill="url(#gblue)"/><circle cx="522.6" cy="561.5" r="9.9" fill="url(#gblue)"/><circle cx="536.2" cy="559.9" r="10.3" fill="url(#gblue)"/><circle cx="557.6" cy="559.4" r="9.1" fill="url(#gblue)"/><circle cx="574.1" cy="562.7" r="9.5" fill="url(#gblue)"/><circle cx="590.6" cy="561.1" r="9.9" fill="url(#gblue)"/><circle cx="605.9" cy="563.1" r="9.3" fill="url(#gblue)"/><circle cx="380.5" cy="574.1" r="9.2" fill="url(#gblue)"/><circle cx="395.5" cy="577.6" r="10.2" fill="url(#gblue)"/><circle cx="416.2" cy="576.2" r="9.6" fill="url(#gblue)"/><circle cx="431.7" cy="578.0" r="10.2" fill="url(#gblue)"/><circle cx="448.8" cy="576.8" r="10.2" fill="url(#gblue)"/><circle cx="464.6" cy="577.6" r="10.3" fill="url(#gblue)"/><circle cx="483.3" cy="576.9" r="9.6" fill="url(#gblue)"/><circle cx="497.9" cy="574.8" r="9.7" fill="url(#gblue)"/><circle cx="513.6" cy="576.3" r="9.9" fill="url(#gblue)"/><circle cx="531.4" cy="576.4" r="9.5" fill="url(#gblue)"/><circle cx="547.0" cy="575.8" r="9.6" fill="url(#gblue)"/><circle cx="565.8" cy="576.6" r="10.1" fill="url(#gblue)"/><circle cx="581.7" cy="576.2" r="10.1" fill="url(#gblue)"/><circle cx="598.8" cy="573.4" r="9.3" fill="url(#gblue)"/><circle cx="372.2" cy="591.8" r="9.8" fill="url(#gblue)"/><circle cx="391.6" cy="590.1" r="10.5" fill="url(#gblue)"/><circle cx="408.0" cy="587.7" r="9.9" fill="url(#gblue)"/><circle cx="422.5" cy="592.0" r="9.2" fill="url(#gblue)"/><circle cx="439.4" cy="589.8" r="9.9" fill="url(#gblue)"/><circle cx="457.2" cy="589.4" r="9.8" fill="url(#gblue)"/><circle cx="471.8" cy="588.7" r="10.0" fill="url(#gblue)"/><circle cx="488.2" cy="590.9" r="9.4" fill="url(#gblue)"/><circle cx="502.6" cy="587.5" r="9.2" fill="url(#gblue)"/><circle cx="520.7" cy="591.8" r="10.1" fill="url(#gblue)"/><circle cx="537.8" cy="592.0" r="9.1" fill="url(#gblue)"/><circle cx="553.7" cy="589.7" r="10.5" fill="url(#gblue)"/><circle cx="569.5" cy="592.0" r="10.1" fill="url(#gblue)"/><circle cx="587.7" cy="591.4" r="9.9" fill="url(#gblue)"/><circle cx="601.3" cy="589.6" r="9.3" fill="url(#gblue)"/><rect x="375" y="440" width="7" height="140" fill="url(#gsideL)"/><rect x="594" y="440" width="7" height="140" fill="url(#gsideR)"/><path d="M370,430 L610,430 L610,453 Q488,465 370,453 Z" fill="url(#gsurf)"/></g><path d="M371,575 Q372,582 392,582.5 Q488,585 584,582.5 Q604,582 605,575" fill="none" stroke="#e6dacd" stroke-width="3.5"/><path d="M683.5,365 L926,365 L926,578 Q926,586 918,586 L691.5,586 Q683.5,586 683.5,578 Z" fill="#ffffff"/><rect x="683.5" y="365" width="8" height="215" fill="url(#gwallL)"/><rect x="917.5" y="365" width="8.5" height="215" fill="url(#gwallL)"/><path d="M691.5,572 Q804,565 917.5,572 L917.5,581 Q804,587 691.5,581 Z" fill="url(#gbase)"/><path d="M684,579 Q686,585 700,585.5 Q804,589 910,585.5 Q924,585 925,578" fill="none" stroke="#ece2d6" stroke-width="2.6"/><path d="M691.4,371 Q691.4,368 694.5,368 L914.5,368 Q917.5,368 917.5,371 L917.5,391 Q804,405.5 691.4,391 Z" fill="#5d5c61"/><path d="M687.2,363.5 L687.2,352 Q687.2,328.8 708.2,328.8 L900,328.8 Q921,328.8 921,352 L921,363.5 Z" fill="url(#glid)"/><path d="M1013.5,365 L1256,365 L1256,578 Q1256,586 1248,586 L1021.5,586 Q1013.5,586 1013.5,578 Z" fill="#ffffff"/><rect x="1013.5" y="365" width="8" height="215" fill="url(#gwallL)"/><rect x="1247.5" y="365" width="8.5" height="215" fill="url(#gwallL)"/><path d="M1021.5,572 Q1134,565 1247.5,572 L1247.5,581 Q1134,587 1021.5,581 Z" fill="url(#gbase)"/><path d="M1014,579 Q1016,585 1030,585.5 Q1134,589 1240,585.5 Q1254,585 1255,578" fill="none" stroke="#ece2d6" stroke-width="2.6"/><path d="M1021.4,371 Q1021.4,368 1024.5,368 L1244.5,368 Q1247.5,368 1247.5,371 L1247.5,391 Q1134,405.5 1021.4,391 Z" fill="#5d5c61"/><path d="M1017.2,363.5 L1017.2,352 Q1017.2,328.8 1038.2,328.8 L1230,328.8 Q1251,328.8 1251,352 L1251,363.5 Z" fill="url(#glid)"/><g transform="translate(717.8,428.9) rotate(225)" filter="url(#blur1)" opacity="1.0"><rect x="0" y="-8.8" width="30" height="17.6" fill="url(#gtrail)"/></g><g transform="translate(757.1,414.6) rotate(95)" filter="url(#blur1)" opacity="1.0"><rect x="0" y="-8.8" width="30" height="17.6" fill="url(#gtrail)"/></g><g transform="translate(796.2,421.5) rotate(-30)" filter="url(#blur1)" opacity="1.0"><rect x="0" y="-8.8" width="30" height="17.6" fill="url(#gtrail)"/></g><g transform="translate(849.0,418.5) rotate(45)" filter="url(#blur1)" opacity="1.0"><rect x="0" y="-8.8" width="30" height="17.6" fill="url(#gtrail)"/></g><g transform="translate(902.7,408.6) rotate(95)" filter="url(#blur1)" opacity="1.0"><rect x="0" y="-8.8" width="30" height="17.6" fill="url(#gtrail)"/></g><g transform="translate(854.4,462.3) rotate(195)" filter="url(#blur1)" opacity="1.0"><rect x="0" y="-8.8" width="30" height="17.6" fill="url(#gtrail)"/></g><g transform="translate(706.6,477.9) rotate(40)" filter="url(#blur1)" opacity="1.0"><rect x="0" y="-8.8" width="30" height="17.6" fill="url(#gtrail)"/></g><g transform="translate(767.0,482.1) rotate(100)" filter="url(#blur1)" opacity="1.0"><rect x="0" y="-8.8" width="30" height="17.6" fill="url(#gtrail)"/></g><g transform="translate(802.9,480.9) rotate(240)" filter="url(#blur1)" opacity="1.0"><rect x="0" y="-8.8" width="30" height="17.6" fill="url(#gtrail)"/></g><g transform="translate(878.7,479.7) rotate(0)" filter="url(#blur1)" opacity="1.0"><rect x="0" y="-8.8" width="30" height="17.6" fill="url(#gtrail)"/></g><g transform="translate(735.6,514.8) rotate(115)" filter="url(#blur1)" opacity="1.0"><rect x="0" y="-8.8" width="30" height="17.6" fill="url(#gtrail)"/></g><g transform="translate(860.6,502.7) rotate(65)" filter="url(#blur1)" opacity="1.0"><rect x="0" y="-8.8" width="30" height="17.6" fill="url(#gtrail)"/></g><g transform="translate(796.2,518.8) rotate(-30)" filter="url(#blur1)" opacity="1.0"><rect x="0" y="-8.8" width="30" height="17.6" fill="url(#gtrail)"/></g><g transform="translate(787.8,555.6) rotate(40)" filter="url(#blur1)" opacity="1.0"><rect x="0" y="-8.8" width="30" height="17.6" fill="url(#gtrail)"/></g><g transform="translate(746.7,562.6) rotate(190)" filter="url(#blur1)" opacity="1.0"><rect x="0" y="-8.8" width="30" height="17.6" fill="url(#gtrail)"/></g><g transform="translate(845.7,553.9) rotate(-10)" filter="url(#blur1)" opacity="1.0"><rect x="0" y="-8.8" width="30" height="17.6" fill="url(#gtrail)"/></g><g transform="translate(889.8,563.0) rotate(250)" filter="url(#blur1)" opacity="1.0"><rect x="0" y="-8.8" width="30" height="17.6" fill="url(#gtrail)"/></g><circle cx="717.8" cy="428.9" r="10.1" fill="url(#ggas)"/><circle cx="757.1" cy="414.6" r="10.1" fill="url(#ggas)"/><circle cx="796.2" cy="421.5" r="10.1" fill="url(#ggas)"/><circle cx="849.0" cy="418.5" r="10.1" fill="url(#ggas)"/><circle cx="902.7" cy="408.6" r="10.1" fill="url(#ggas)"/><circle cx="854.4" cy="462.3" r="10.1" fill="url(#ggas)"/><circle cx="706.6" cy="477.9" r="10.1" fill="url(#ggas)"/><circle cx="767.0" cy="482.1" r="10.1" fill="url(#ggas)"/><circle cx="802.9" cy="480.9" r="10.1" fill="url(#ggas)"/><circle cx="878.7" cy="479.7" r="10.1" fill="url(#ggas)"/><circle cx="735.6" cy="514.8" r="10.1" fill="url(#ggas)"/><circle cx="860.6" cy="502.7" r="10.1" fill="url(#ggas)"/><circle cx="796.2" cy="518.8" r="10.1" fill="url(#ggas)"/><circle cx="787.8" cy="555.6" r="10.1" fill="url(#ggas)"/><circle cx="746.7" cy="562.6" r="10.1" fill="url(#ggas)"/><circle cx="845.7" cy="553.9" r="10.1" fill="url(#ggas)"/><circle cx="889.8" cy="563.0" r="10.1" fill="url(#ggas)"/><g transform="translate(1046.5,411.6) rotate(250)" filter="url(#blur1)" opacity="0.8"><rect x="0" y="-6.6" width="24" height="13.2" fill="url(#gtrail)"/></g><g transform="translate(1140.6,409.1) rotate(120)" filter="url(#blur1)" opacity="0.8"><rect x="0" y="-6.6" width="24" height="13.2" fill="url(#gtrail)"/></g><g transform="translate(1166.3,427.2) rotate(100)" filter="url(#blur1)" opacity="0.8"><rect x="0" y="-6.6" width="24" height="13.2" fill="url(#gtrail)"/></g><g transform="translate(1235.1,416.0) rotate(200)" filter="url(#blur1)" opacity="0.8"><rect x="0" y="-6.6" width="24" height="13.2" fill="url(#gtrail)"/></g><g transform="translate(1107.2,438.8) rotate(230)" filter="url(#blur1)" opacity="0.8"><rect x="0" y="-6.6" width="24" height="13.2" fill="url(#gtrail)"/></g><g transform="translate(1048.3,460.3) rotate(120)" filter="url(#blur1)" opacity="0.8"><rect x="0" y="-6.6" width="24" height="13.2" fill="url(#gtrail)"/></g><g transform="translate(1221.0,456.1) rotate(-40)" filter="url(#blur1)" opacity="0.8"><rect x="0" y="-6.6" width="24" height="13.2" fill="url(#gtrail)"/></g><g transform="translate(1129.5,472.7) rotate(230)" filter="url(#blur1)" opacity="0.8"><rect x="0" y="-6.6" width="24" height="13.2" fill="url(#gtrail)"/></g><g transform="translate(1177.7,482.1) rotate(230)" filter="url(#blur1)" opacity="0.8"><rect x="0" y="-6.6" width="24" height="13.2" fill="url(#gtrail)"/></g><g transform="translate(1235.1,495.7) rotate(250)" filter="url(#blur1)" opacity="0.8"><rect x="0" y="-6.6" width="24" height="13.2" fill="url(#gtrail)"/></g><g transform="translate(1105.2,503.2) rotate(200)" filter="url(#blur1)" opacity="0.8"><rect x="0" y="-6.6" width="24" height="13.2" fill="url(#gtrail)"/></g><g transform="translate(1035.4,511.8) rotate(-40)" filter="url(#blur1)" opacity="0.8"><rect x="0" y="-6.6" width="24" height="13.2" fill="url(#gtrail)"/></g><g transform="translate(1147.5,510.1) rotate(250)" filter="url(#blur1)" opacity="0.8"><rect x="0" y="-6.6" width="24" height="13.2" fill="url(#gtrail)"/></g><g transform="translate(1200.5,524.2) rotate(-40)" filter="url(#blur1)" opacity="0.8"><rect x="0" y="-6.6" width="24" height="13.2" fill="url(#gtrail)"/></g><g transform="translate(1227.7,531.6) rotate(230)" filter="url(#blur1)" opacity="0.8"><rect x="0" y="-6.6" width="24" height="13.2" fill="url(#gtrail)"/></g><g transform="translate(1080.9,534.6) rotate(200)" filter="url(#blur1)" opacity="0.8"><rect x="0" y="-6.6" width="24" height="13.2" fill="url(#gtrail)"/></g><g transform="translate(1105.7,558.4) rotate(60)" filter="url(#blur1)" opacity="0.8"><rect x="0" y="-6.6" width="24" height="13.2" fill="url(#gtrail)"/></g><g transform="translate(1149.3,559.4) rotate(-40)" filter="url(#blur1)" opacity="0.8"><rect x="0" y="-6.6" width="24" height="13.2" fill="url(#gtrail)"/></g><g transform="translate(1221.0,556.4) rotate(250)" filter="url(#blur1)" opacity="0.8"><rect x="0" y="-6.6" width="24" height="13.2" fill="url(#gtrail)"/></g><g transform="translate(1042.6,566.8) rotate(60)" filter="url(#blur1)" opacity="0.8"><rect x="0" y="-6.6" width="24" height="13.2" fill="url(#gtrail)"/></g><g transform="translate(1185.6,568.8) rotate(120)" filter="url(#blur1)" opacity="0.8"><rect x="0" y="-6.6" width="24" height="13.2" fill="url(#gtrail)"/></g><g transform="translate(1093.3,407.1) rotate(200)" filter="url(#blur1)" opacity="0.8"><rect x="0" y="-4.6" width="18" height="9.2" fill="url(#gtrail)"/></g><g transform="translate(1188.1,407.1) rotate(-40)" filter="url(#blur1)" opacity="0.8"><rect x="0" y="-4.6" width="18" height="9.2" fill="url(#gtrail)"/></g><g transform="translate(1205.9,419.5) rotate(120)" filter="url(#blur1)" opacity="0.8"><rect x="0" y="-4.6" width="18" height="9.2" fill="url(#gtrail)"/></g><g transform="translate(1032.2,443.8) rotate(120)" filter="url(#blur1)" opacity="0.8"><rect x="0" y="-4.6" width="18" height="9.2" fill="url(#gtrail)"/></g><g transform="translate(1073.5,450.0) rotate(230)" filter="url(#blur1)" opacity="0.8"><rect x="0" y="-4.6" width="18" height="9.2" fill="url(#gtrail)"/></g><g transform="translate(1142.3,443.0) rotate(100)" filter="url(#blur1)" opacity="0.8"><rect x="0" y="-4.6" width="18" height="9.2" fill="url(#gtrail)"/></g><g transform="translate(1181.4,445.5) rotate(250)" filter="url(#blur1)" opacity="0.8"><rect x="0" y="-4.6" width="18" height="9.2" fill="url(#gtrail)"/></g><g transform="translate(1226.0,436.3) rotate(200)" filter="url(#blur1)" opacity="0.8"><rect x="0" y="-4.6" width="18" height="9.2" fill="url(#gtrail)"/></g><g transform="translate(1101.5,468.5) rotate(60)" filter="url(#blur1)" opacity="0.8"><rect x="0" y="-4.6" width="18" height="9.2" fill="url(#gtrail)"/></g><g transform="translate(1170.3,465.3) rotate(250)" filter="url(#blur1)" opacity="0.8"><rect x="0" y="-4.6" width="18" height="9.2" fill="url(#gtrail)"/></g><g transform="translate(1235.9,466.8) rotate(250)" filter="url(#blur1)" opacity="0.8"><rect x="0" y="-4.6" width="18" height="9.2" fill="url(#gtrail)"/></g><g transform="translate(1043.3,484.6) rotate(60)" filter="url(#blur1)" opacity="0.8"><rect x="0" y="-4.6" width="18" height="9.2" fill="url(#gtrail)"/></g><g transform="translate(1072.5,482.6) rotate(200)" filter="url(#blur1)" opacity="0.8"><rect x="0" y="-4.6" width="18" height="9.2" fill="url(#gtrail)"/></g><g transform="translate(1143.1,491.3) rotate(200)" filter="url(#blur1)" opacity="0.8"><rect x="0" y="-4.6" width="18" height="9.2" fill="url(#gtrail)"/></g><g transform="translate(1205.9,476.7) rotate(200)" filter="url(#blur1)" opacity="0.8"><rect x="0" y="-4.6" width="18" height="9.2" fill="url(#gtrail)"/></g><g transform="translate(1074.3,508.9) rotate(250)" filter="url(#blur1)" opacity="0.8"><rect x="0" y="-4.6" width="18" height="9.2" fill="url(#gtrail)"/></g><g transform="translate(1186.9,503.9) rotate(-40)" filter="url(#blur1)" opacity="0.8"><rect x="0" y="-4.6" width="18" height="9.2" fill="url(#gtrail)"/></g><g transform="translate(1170.3,517.3) rotate(-40)" filter="url(#blur1)" opacity="0.8"><rect x="0" y="-4.6" width="18" height="9.2" fill="url(#gtrail)"/></g><g transform="translate(1052.5,532.9) rotate(250)" filter="url(#blur1)" opacity="0.8"><rect x="0" y="-4.6" width="18" height="9.2" fill="url(#gtrail)"/></g><g transform="translate(1121.3,533.4) rotate(-40)" filter="url(#blur1)" opacity="0.8"><rect x="0" y="-4.6" width="18" height="9.2" fill="url(#gtrail)"/></g><g transform="translate(1172.0,546.0) rotate(250)" filter="url(#blur1)" opacity="0.8"><rect x="0" y="-4.6" width="18" height="9.2" fill="url(#gtrail)"/></g><g transform="translate(1061.4,563.8) rotate(120)" filter="url(#blur1)" opacity="0.8"><rect x="0" y="-4.6" width="18" height="9.2" fill="url(#gtrail)"/></g><g transform="translate(1088.4,570.5) rotate(-40)" filter="url(#blur1)" opacity="0.8"><rect x="0" y="-4.6" width="18" height="9.2" fill="url(#gtrail)"/></g><g transform="translate(1131.2,573.0) rotate(200)" filter="url(#blur1)" opacity="0.8"><rect x="0" y="-4.6" width="18" height="9.2" fill="url(#gtrail)"/></g><g transform="translate(1046.5,411.6)"><circle r="7.8" fill="url(#gred)"/><g transform="rotate(68)" stroke="#2f3b32" stroke-width="2.4" stroke-linecap="butt"><line x1="-4.8" y1="0" x2="4.8" y2="0"/><line x1="0" y1="-4.8" x2="0" y2="4.8"/></g></g><g transform="translate(1140.6,409.1)"><circle r="7.8" fill="url(#gred)"/><g transform="rotate(17)" stroke="#2f3b32" stroke-width="2.4" stroke-linecap="butt"><line x1="-4.8" y1="0" x2="4.8" y2="0"/><line x1="0" y1="-4.8" x2="0" y2="4.8"/></g></g><g transform="translate(1166.3,427.2)"><circle r="7.8" fill="url(#gred)"/><g transform="rotate(22)" stroke="#2f3b32" stroke-width="2.4" stroke-linecap="butt"><line x1="-4.8" y1="0" x2="4.8" y2="0"/><line x1="0" y1="-4.8" x2="0" y2="4.8"/></g></g><g transform="translate(1235.1,416.0)"><circle r="7.8" fill="url(#gred)"/><g transform="rotate(88)" stroke="#2f3b32" stroke-width="2.4" stroke-linecap="butt"><line x1="-4.8" y1="0" x2="4.8" y2="0"/><line x1="0" y1="-4.8" x2="0" y2="4.8"/></g></g><g transform="translate(1107.2,438.8)"><circle r="7.8" fill="url(#gred)"/><g transform="rotate(82)" stroke="#2f3b32" stroke-width="2.4" stroke-linecap="butt"><line x1="-4.8" y1="0" x2="4.8" y2="0"/><line x1="0" y1="-4.8" x2="0" y2="4.8"/></g></g><g transform="translate(1048.3,460.3)"><circle r="7.8" fill="url(#gred)"/><g transform="rotate(79)" stroke="#2f3b32" stroke-width="2.4" stroke-linecap="butt"><line x1="-4.8" y1="0" x2="4.8" y2="0"/><line x1="0" y1="-4.8" x2="0" y2="4.8"/></g></g><g transform="translate(1221.0,456.1)"><circle r="7.8" fill="url(#gred)"/><g transform="rotate(4)" stroke="#2f3b32" stroke-width="2.4" stroke-linecap="butt"><line x1="-4.8" y1="0" x2="4.8" y2="0"/><line x1="0" y1="-4.8" x2="0" y2="4.8"/></g></g><g transform="translate(1129.5,472.7)"><circle r="7.8" fill="url(#gred)"/><g transform="rotate(5)" stroke="#2f3b32" stroke-width="2.4" stroke-linecap="butt"><line x1="-4.8" y1="0" x2="4.8" y2="0"/><line x1="0" y1="-4.8" x2="0" y2="4.8"/></g></g><g transform="translate(1177.7,482.1)"><circle r="7.8" fill="url(#gred)"/><g transform="rotate(24)" stroke="#2f3b32" stroke-width="2.4" stroke-linecap="butt"><line x1="-4.8" y1="0" x2="4.8" y2="0"/><line x1="0" y1="-4.8" x2="0" y2="4.8"/></g></g><g transform="translate(1235.1,495.7)"><circle r="7.8" fill="url(#gred)"/><g transform="rotate(38)" stroke="#2f3b32" stroke-width="2.4" stroke-linecap="butt"><line x1="-4.8" y1="0" x2="4.8" y2="0"/><line x1="0" y1="-4.8" x2="0" y2="4.8"/></g></g><g transform="translate(1105.2,503.2)"><circle r="7.8" fill="url(#gred)"/><g transform="rotate(56)" stroke="#2f3b32" stroke-width="2.4" stroke-linecap="butt"><line x1="-4.8" y1="0" x2="4.8" y2="0"/><line x1="0" y1="-4.8" x2="0" y2="4.8"/></g></g><g transform="translate(1035.4,511.8)"><circle r="7.8" fill="url(#gred)"/><g transform="rotate(9)" stroke="#2f3b32" stroke-width="2.4" stroke-linecap="butt"><line x1="-4.8" y1="0" x2="4.8" y2="0"/><line x1="0" y1="-4.8" x2="0" y2="4.8"/></g></g><g transform="translate(1147.5,510.1)"><circle r="7.8" fill="url(#gred)"/><g transform="rotate(49)" stroke="#2f3b32" stroke-width="2.4" stroke-linecap="butt"><line x1="-4.8" y1="0" x2="4.8" y2="0"/><line x1="0" y1="-4.8" x2="0" y2="4.8"/></g></g><g transform="translate(1200.5,524.2)"><circle r="7.8" fill="url(#gred)"/><g transform="rotate(7)" stroke="#2f3b32" stroke-width="2.4" stroke-linecap="butt"><line x1="-4.8" y1="0" x2="4.8" y2="0"/><line x1="0" y1="-4.8" x2="0" y2="4.8"/></g></g><g transform="translate(1227.7,531.6)"><circle r="7.8" fill="url(#gred)"/><g transform="rotate(8)" stroke="#2f3b32" stroke-width="2.4" stroke-linecap="butt"><line x1="-4.8" y1="0" x2="4.8" y2="0"/><line x1="0" y1="-4.8" x2="0" y2="4.8"/></g></g><g transform="translate(1080.9,534.6)"><circle r="7.8" fill="url(#gred)"/><g transform="rotate(61)" stroke="#2f3b32" stroke-width="2.4" stroke-linecap="butt"><line x1="-4.8" y1="0" x2="4.8" y2="0"/><line x1="0" y1="-4.8" x2="0" y2="4.8"/></g></g><g transform="translate(1105.7,558.4)"><circle r="7.8" fill="url(#gred)"/><g transform="rotate(50)" stroke="#2f3b32" stroke-width="2.4" stroke-linecap="butt"><line x1="-4.8" y1="0" x2="4.8" y2="0"/><line x1="0" y1="-4.8" x2="0" y2="4.8"/></g></g><g transform="translate(1149.3,559.4)"><circle r="7.8" fill="url(#gred)"/><g transform="rotate(57)" stroke="#2f3b32" stroke-width="2.4" stroke-linecap="butt"><line x1="-4.8" y1="0" x2="4.8" y2="0"/><line x1="0" y1="-4.8" x2="0" y2="4.8"/></g></g><g transform="translate(1221.0,556.4)"><circle r="7.8" fill="url(#gred)"/><g transform="rotate(34)" stroke="#2f3b32" stroke-width="2.4" stroke-linecap="butt"><line x1="-4.8" y1="0" x2="4.8" y2="0"/><line x1="0" y1="-4.8" x2="0" y2="4.8"/></g></g><g transform="translate(1042.6,566.8)"><circle r="7.8" fill="url(#gred)"/><g transform="rotate(43)" stroke="#2f3b32" stroke-width="2.4" stroke-linecap="butt"><line x1="-4.8" y1="0" x2="4.8" y2="0"/><line x1="0" y1="-4.8" x2="0" y2="4.8"/></g></g><g transform="translate(1185.6,568.8)"><circle r="7.8" fill="url(#gred)"/><g transform="rotate(19)" stroke="#2f3b32" stroke-width="2.4" stroke-linecap="butt"><line x1="-4.8" y1="0" x2="4.8" y2="0"/><line x1="0" y1="-4.8" x2="0" y2="4.8"/></g></g><g transform="translate(1093.3,407.1)"><circle r="5.5" fill="url(#gyel)"/><g transform="rotate(71)" stroke="#35203f" stroke-width="1.8"><line x1="-3.8" y1="0" x2="3.8" y2="0"/></g></g><g transform="translate(1188.1,407.1)"><circle r="5.5" fill="url(#gyel)"/><g transform="rotate(107)" stroke="#35203f" stroke-width="1.8"><line x1="-3.8" y1="0" x2="3.8" y2="0"/></g></g><g transform="translate(1205.9,419.5)"><circle r="5.5" fill="url(#gyel)"/><g transform="rotate(115)" stroke="#35203f" stroke-width="1.8"><line x1="-3.8" y1="0" x2="3.8" y2="0"/></g></g><g transform="translate(1032.2,443.8)"><circle r="5.5" fill="url(#gyel)"/><g transform="rotate(47)" stroke="#35203f" stroke-width="1.8"><line x1="-3.8" y1="0" x2="3.8" y2="0"/></g></g><g transform="translate(1073.5,450.0)"><circle r="5.5" fill="url(#gyel)"/><g transform="rotate(51)" stroke="#35203f" stroke-width="1.8"><line x1="-3.8" y1="0" x2="3.8" y2="0"/></g></g><g transform="translate(1142.3,443.0)"><circle r="5.5" fill="url(#gyel)"/><g transform="rotate(113)" stroke="#35203f" stroke-width="1.8"><line x1="-3.8" y1="0" x2="3.8" y2="0"/></g></g><g transform="translate(1181.4,445.5)"><circle r="5.5" fill="url(#gyel)"/><g transform="rotate(96)" stroke="#35203f" stroke-width="1.8"><line x1="-3.8" y1="0" x2="3.8" y2="0"/></g></g><g transform="translate(1226.0,436.3)"><circle r="5.5" fill="url(#gyel)"/><g transform="rotate(109)" stroke="#35203f" stroke-width="1.8"><line x1="-3.8" y1="0" x2="3.8" y2="0"/></g></g><g transform="translate(1101.5,468.5)"><circle r="5.5" fill="url(#gyel)"/><g transform="rotate(59)" stroke="#35203f" stroke-width="1.8"><line x1="-3.8" y1="0" x2="3.8" y2="0"/></g></g><g transform="translate(1170.3,465.3)"><circle r="5.5" fill="url(#gyel)"/><g transform="rotate(78)" stroke="#35203f" stroke-width="1.8"><line x1="-3.8" y1="0" x2="3.8" y2="0"/></g></g><g transform="translate(1235.9,466.8)"><circle r="5.5" fill="url(#gyel)"/><g transform="rotate(63)" stroke="#35203f" stroke-width="1.8"><line x1="-3.8" y1="0" x2="3.8" y2="0"/></g></g><g transform="translate(1043.3,484.6)"><circle r="5.5" fill="url(#gyel)"/><g transform="rotate(113)" stroke="#35203f" stroke-width="1.8"><line x1="-3.8" y1="0" x2="3.8" y2="0"/></g></g><g transform="translate(1072.5,482.6)"><circle r="5.5" fill="url(#gyel)"/><g transform="rotate(73)" stroke="#35203f" stroke-width="1.8"><line x1="-3.8" y1="0" x2="3.8" y2="0"/></g></g><g transform="translate(1143.1,491.3)"><circle r="5.5" fill="url(#gyel)"/><g transform="rotate(99)" stroke="#35203f" stroke-width="1.8"><line x1="-3.8" y1="0" x2="3.8" y2="0"/></g></g><g transform="translate(1205.9,476.7)"><circle r="5.5" fill="url(#gyel)"/><g transform="rotate(129)" stroke="#35203f" stroke-width="1.8"><line x1="-3.8" y1="0" x2="3.8" y2="0"/></g></g><g transform="translate(1074.3,508.9)"><circle r="5.5" fill="url(#gyel)"/><g transform="rotate(69)" stroke="#35203f" stroke-width="1.8"><line x1="-3.8" y1="0" x2="3.8" y2="0"/></g></g><g transform="translate(1186.9,503.9)"><circle r="5.5" fill="url(#gyel)"/><g transform="rotate(89)" stroke="#35203f" stroke-width="1.8"><line x1="-3.8" y1="0" x2="3.8" y2="0"/></g></g><g transform="translate(1170.3,517.3)"><circle r="5.5" fill="url(#gyel)"/><g transform="rotate(107)" stroke="#35203f" stroke-width="1.8"><line x1="-3.8" y1="0" x2="3.8" y2="0"/></g></g><g transform="translate(1052.5,532.9)"><circle r="5.5" fill="url(#gyel)"/><g transform="rotate(123)" stroke="#35203f" stroke-width="1.8"><line x1="-3.8" y1="0" x2="3.8" y2="0"/></g></g><g transform="translate(1121.3,533.4)"><circle r="5.5" fill="url(#gyel)"/><g transform="rotate(78)" stroke="#35203f" stroke-width="1.8"><line x1="-3.8" y1="0" x2="3.8" y2="0"/></g></g><g transform="translate(1172.0,546.0)"><circle r="5.5" fill="url(#gyel)"/><g transform="rotate(73)" stroke="#35203f" stroke-width="1.8"><line x1="-3.8" y1="0" x2="3.8" y2="0"/></g></g><g transform="translate(1061.4,563.8)"><circle r="5.5" fill="url(#gyel)"/><g transform="rotate(49)" stroke="#35203f" stroke-width="1.8"><line x1="-3.8" y1="0" x2="3.8" y2="0"/></g></g><g transform="translate(1088.4,570.5)"><circle r="5.5" fill="url(#gyel)"/><g transform="rotate(119)" stroke="#35203f" stroke-width="1.8"><line x1="-3.8" y1="0" x2="3.8" y2="0"/></g></g><g transform="translate(1131.2,573.0)"><circle r="5.5" fill="url(#gyel)"/><g transform="rotate(47)" stroke="#35203f" stroke-width="1.8"><line x1="-3.8" y1="0" x2="3.8" y2="0"/></g></g><text transform="translate(503.00,66.50) scale(0.86,1)" font-size="33.6" fill="#231f20" stroke="#231f20" stroke-width="1.1" textLength="341.86" lengthAdjust="spacing">STATE OF MATTER</text><text transform="translate(550.00,128.00) scale(0.95,1)" font-size="26.6" fill="#231f20" stroke="#231f20" stroke-width="0.7" textLength="208.42" lengthAdjust="spacing">Internal Energy</text><text transform="translate(599.00,202.10) scale(0.95,1)" font-size="26.5" fill="#f0141e" stroke="#f0141e" stroke-width="0.7" textLength="107.37" lengthAdjust="spacing">Heating</text><text transform="translate(600.00,736.80) scale(0.95,1)" font-size="26.8" fill="#1a55b0" stroke="#1a55b0" stroke-width="0.7" textLength="105.79" lengthAdjust="spacing">Cooling</text><text transform="translate(601.00,810.00) scale(0.95,1)" font-size="26.5" fill="#231f20" stroke="#231f20" stroke-width="0.7" textLength="101.05" lengthAdjust="spacing">Density</text><text transform="translate(131.50,304.70) scale(0.88,1)" font-size="27.2" fill="#231f20" stroke="#231f20" stroke-width="0.6" textLength="71.59" lengthAdjust="spacing">Solid</text><text transform="translate(131.50,633.50) scale(0.88,1)" font-size="27.2" fill="#231f20" stroke="#231f20" stroke-width="0.6" textLength="71.59" lengthAdjust="spacing">Solid</text><text transform="translate(448.00,304.70) scale(0.88,1)" font-size="27.2" fill="#231f20" stroke="#231f20" stroke-width="0.6" textLength="89.77" lengthAdjust="spacing">Liquid</text><text transform="translate(448.00,633.50) scale(0.88,1)" font-size="27.2" fill="#231f20" stroke="#231f20" stroke-width="0.6" textLength="89.77" lengthAdjust="spacing">Liquid</text><text transform="translate(779.00,304.70) scale(0.88,1)" font-size="27.2" fill="#231f20" stroke="#231f20" stroke-width="0.6" textLength="56.82" lengthAdjust="spacing">Gas</text><text transform="translate(779.00,633.50) scale(0.88,1)" font-size="27.2" fill="#231f20" stroke="#231f20" stroke-width="0.6" textLength="56.82" lengthAdjust="spacing">Gas</text><text transform="translate(1089.00,304.70) scale(0.88,1)" font-size="27.2" fill="#231f20" stroke="#231f20" stroke-width="0.6" textLength="102.27" lengthAdjust="spacing">Plasma</text><text transform="translate(1089.00,633.50) scale(0.88,1)" font-size="27.2" fill="#231f20" stroke="#231f20" stroke-width="0.6" textLength="102.27" lengthAdjust="spacing">Plasma</text><text transform="translate(293.00,300.80) scale(0.9,1)" font-size="20.2" fill="#ff0000" stroke="#ff0000" stroke-width="0.7" textLength="80.00" lengthAdjust="spacing">Melting</text><text transform="translate(578.00,300.60) scale(0.9,1)" font-size="20.2" fill="#ff0000" stroke="#ff0000" stroke-width="0.7" textLength="139.44" lengthAdjust="spacing">Vaporization</text><text transform="translate(930.00,302.60) scale(0.9,1)" font-size="20.2" fill="#ff0000" stroke="#ff0000" stroke-width="0.7" textLength="108.89" lengthAdjust="spacing">Ionization</text><text transform="translate(286.00,629.80) scale(0.9,1)" font-size="20.2" fill="#1d56b0" stroke="#1d56b0" stroke-width="0.7" textLength="93.33" lengthAdjust="spacing">Freezing</text><text transform="translate(570.00,631.30) scale(0.9,1)" font-size="20.2" fill="#1d56b0" stroke="#1d56b0" stroke-width="0.7" textLength="152.22" lengthAdjust="spacing">Condensation</text><text transform="translate(917.00,631.20) scale(0.9,1)" font-size="20.2" fill="#1d56b0" stroke="#1d56b0" stroke-width="0.7" textLength="136.67" lengthAdjust="spacing">Deionization</text><text x="142.50" y="891.50" font-size="16.3" fill="#231f20" stroke="#231f20" stroke-width="0.45" textLength="106.00" lengthAdjust="spacing">Strong bond</text><text x="451.00" y="891.50" font-size="16.3" fill="#231f20" stroke="#231f20" stroke-width="0.45" textLength="96.50" lengthAdjust="spacing">Weak bond</text><text x="765.00" y="891.50" font-size="16.3" fill="#231f20" stroke="#231f20" stroke-width="0.45" textLength="72.50" lengthAdjust="spacing">No bond</text><text x="1062.00" y="891.50" font-size="16.3" fill="#231f20" stroke="#231f20" stroke-width="0.45" textLength="85.50" lengthAdjust="spacing">Ionization</text><text x="101.50" y="928.30" font-size="16.3" fill="#231f20" stroke="#231f20" stroke-width="0.45" textLength="185.00" lengthAdjust="spacing">Regular arrangement</text><text x="400.50" y="928.30" font-size="16.3" fill="#231f20" stroke="#231f20" stroke-width="0.45" textLength="193.50" lengthAdjust="spacing">Irregular arrangement</text><text x="704.00" y="928.30" font-size="16.3" fill="#231f20" stroke="#231f20" stroke-width="0.45" textLength="192.50" lengthAdjust="spacing">Irregular arrangement</text><text x="1007.50" y="928.30" font-size="16.3" fill="#231f20" stroke="#231f20" stroke-width="0.45" textLength="193.00" lengthAdjust="spacing">Irregular arrangement</text><text x="56.50" y="965.10" font-size="16.3" fill="#231f20" stroke="#231f20" stroke-width="0.45" textLength="278.50" lengthAdjust="spacing">Vibrates almost in fixed position</text><text x="388.00" y="965.10" font-size="16.3" fill="#231f20" stroke="#231f20" stroke-width="0.45" textLength="218.50" lengthAdjust="spacing">Moves around each other</text><text x="705.50" y="965.10" font-size="16.3" fill="#231f20" stroke="#231f20" stroke-width="0.45" textLength="191.00" lengthAdjust="spacing">Moves in all directions</text><text x="1009.00" y="965.10" font-size="16.3" fill="#231f20" stroke="#231f20" stroke-width="0.45" textLength="191.00" lengthAdjust="spacing">Moves in all directions</text><text x="106.50" y="1001.90" font-size="16.3" fill="#231f20" stroke="#231f20" stroke-width="0.45" textLength="174.50" lengthAdjust="spacing">It has its own shape</text><text x="393.00" y="1001.90" font-size="16.3" fill="#231f20" stroke="#231f20" stroke-width="0.45" textLength="208.50" lengthAdjust="spacing">It takes container shape</text><text x="735.00" y="1001.90" font-size="16.3" fill="#231f20" stroke="#231f20" stroke-width="0.45" textLength="132.50" lengthAdjust="spacing">It has no shape</text><text x="1008.00" y="1001.90" font-size="16.3" fill="#231f20" stroke="#231f20" stroke-width="0.45" textLength="192.00" lengthAdjust="spacing">It has indefinite shape</text><text x="172.50" y="1038.70" font-size="16.3" fill="#231f20" stroke="#231f20" stroke-width="0.45" textLength="43.50" lengthAdjust="spacing">Rigid</text><text x="460.00" y="1038.70" font-size="16.3" fill="#231f20" stroke="#231f20" stroke-width="0.45" textLength="76.00" lengthAdjust="spacing">Not rigid</text><text x="763.00" y="1038.70" font-size="16.3" fill="#231f20" stroke="#231f20" stroke-width="0.45" textLength="77.00" lengthAdjust="spacing">Not rigid</text><text x="1066.50" y="1038.70" font-size="16.3" fill="#231f20" stroke="#231f20" stroke-width="0.45" textLength="76.00" lengthAdjust="spacing">Not rigid</text><text x="136.50" y="1075.50" font-size="16.3" fill="#231f20" stroke="#231f20" stroke-width="0.45" textLength="114.50" lengthAdjust="spacing">Fixed volume</text><text x="440.00" y="1075.50" font-size="16.3" fill="#231f20" stroke="#231f20" stroke-width="0.45" textLength="115.00" lengthAdjust="spacing">Fixed volume</text><text x="727.50" y="1075.50" font-size="16.3" fill="#231f20" stroke="#231f20" stroke-width="0.45" textLength="147.50" lengthAdjust="spacing">Not fixed volume</text><text x="1031.50" y="1075.50" font-size="16.3" fill="#231f20" stroke="#231f20" stroke-width="0.45" textLength="146.00" lengthAdjust="spacing">Not fixed volume</text><g transform="translate(58.5,149.5) rotate(-45)"><rect x="-14.5" y="-14.5" width="29" height="29" rx="6" fill="none" stroke="rgba(255,255,255,0.33)" stroke-width="4"/><rect x="-16.5" y="-16.5" width="33" height="33" rx="7" fill="none" stroke="rgba(190,190,190,0.45)" stroke-width="0.9"/><rect x="-12.5" y="-12.5" width="25" height="25" rx="4" fill="none" stroke="rgba(190,190,190,0.45)" stroke-width="0.9"/><circle cx="0" cy="-2" r="6" fill="rgba(255,255,255,0.33)" stroke="rgba(190,190,190,0.45)" stroke-width="0.8"/><text x="22" y="11" font-size="32" font-weight="bold" textLength="116" lengthAdjust="spacingAndGlyphs" fill="rgba(255,255,255,0.33)" stroke="rgba(190,190,190,0.45)" stroke-width="0.9">123RF</text><circle cx="144" cy="-15" r="4.5" fill="none" stroke="rgba(190,190,190,0.45)" stroke-width="0.9"/></g><g transform="translate(474.5,106.0) rotate(-45)"><rect x="-38" y="-38" width="76" height="76" rx="9" fill="none" stroke="rgba(255,255,255,0.33)" stroke-width="6"/><rect x="-41" y="-41" width="82" height="82" rx="11" fill="none" stroke="rgba(190,190,190,0.45)" stroke-width="1"/><rect x="-35" y="-35" width="70" height="70" rx="7" fill="none" stroke="rgba(190,190,190,0.45)" stroke-width="1"/><circle cx="0" cy="-9" r="19" fill="rgba(255,255,255,0.33)" stroke="rgba(190,190,190,0.45)" stroke-width="1"/></g><g transform="translate(793.5,149.5) rotate(-45)"><rect x="-14.5" y="-14.5" width="29" height="29" rx="6" fill="none" stroke="rgba(255,255,255,0.33)" stroke-width="4"/><rect x="-16.5" y="-16.5" width="33" height="33" rx="7" fill="none" stroke="rgba(190,190,190,0.45)" stroke-width="0.9"/><rect x="-12.5" y="-12.5" width="25" height="25" rx="4" fill="none" stroke="rgba(190,190,190,0.45)" stroke-width="0.9"/><circle cx="0" cy="-2" r="6" fill="rgba(255,255,255,0.33)" stroke="rgba(190,190,190,0.45)" stroke-width="0.8"/><text x="22" y="11" font-size="32" font-weight="bold" textLength="116" lengthAdjust="spacingAndGlyphs" fill="rgba(255,255,255,0.33)" stroke="rgba(190,190,190,0.45)" stroke-width="0.9">123RF</text><circle cx="144" cy="-15" r="4.5" fill="none" stroke="rgba(190,190,190,0.45)" stroke-width="0.9"/></g><g transform="translate(1209.5,106.0) rotate(-45)"><rect x="-38" y="-38" width="76" height="76" rx="9" fill="none" stroke="rgba(255,255,255,0.33)" stroke-width="6"/><rect x="-41" y="-41" width="82" height="82" rx="11" fill="none" stroke="rgba(190,190,190,0.45)" stroke-width="1"/><rect x="-35" y="-35" width="70" height="70" rx="7" fill="none" stroke="rgba(190,190,190,0.45)" stroke-width="1"/><circle cx="0" cy="-9" r="19" fill="rgba(255,255,255,0.33)" stroke="rgba(190,190,190,0.45)" stroke-width="1"/></g><g transform="translate(107.0,473.5) rotate(-45)"><rect x="-38" y="-38" width="76" height="76" rx="9" fill="none" stroke="rgba(255,255,255,0.33)" stroke-width="6"/><rect x="-41" y="-41" width="82" height="82" rx="11" fill="none" stroke="rgba(190,190,190,0.45)" stroke-width="1"/><rect x="-35" y="-35" width="70" height="70" rx="7" fill="none" stroke="rgba(190,190,190,0.45)" stroke-width="1"/><circle cx="0" cy="-9" r="19" fill="rgba(255,255,255,0.33)" stroke="rgba(190,190,190,0.45)" stroke-width="1"/></g><g transform="translate(426.0,517.0) rotate(-45)"><rect x="-14.5" y="-14.5" width="29" height="29" rx="6" fill="none" stroke="rgba(255,255,255,0.33)" stroke-width="4"/><rect x="-16.5" y="-16.5" width="33" height="33" rx="7" fill="none" stroke="rgba(190,190,190,0.45)" stroke-width="0.9"/><rect x="-12.5" y="-12.5" width="25" height="25" rx="4" fill="none" stroke="rgba(190,190,190,0.45)" stroke-width="0.9"/><circle cx="0" cy="-2" r="6" fill="rgba(255,255,255,0.33)" stroke="rgba(190,190,190,0.45)" stroke-width="0.8"/><text x="22" y="11" font-size="32" font-weight="bold" textLength="116" lengthAdjust="spacingAndGlyphs" fill="rgba(255,255,255,0.33)" stroke="rgba(190,190,190,0.45)" stroke-width="0.9">123RF</text><circle cx="144" cy="-15" r="4.5" fill="none" stroke="rgba(190,190,190,0.45)" stroke-width="0.9"/></g><g transform="translate(842.0,473.5) rotate(-45)"><rect x="-38" y="-38" width="76" height="76" rx="9" fill="none" stroke="rgba(255,255,255,0.33)" stroke-width="6"/><rect x="-41" y="-41" width="82" height="82" rx="11" fill="none" stroke="rgba(190,190,190,0.45)" stroke-width="1"/><rect x="-35" y="-35" width="70" height="70" rx="7" fill="none" stroke="rgba(190,190,190,0.45)" stroke-width="1"/><circle cx="0" cy="-9" r="19" fill="rgba(255,255,255,0.33)" stroke="rgba(190,190,190,0.45)" stroke-width="1"/></g><g transform="translate(1161.0,517.0) rotate(-45)"><rect x="-14.5" y="-14.5" width="29" height="29" rx="6" fill="none" stroke="rgba(255,255,255,0.33)" stroke-width="4"/><rect x="-16.5" y="-16.5" width="33" height="33" rx="7" fill="none" stroke="rgba(190,190,190,0.45)" stroke-width="0.9"/><rect x="-12.5" y="-12.5" width="25" height="25" rx="4" fill="none" stroke="rgba(190,190,190,0.45)" stroke-width="0.9"/><circle cx="0" cy="-2" r="6" fill="rgba(255,255,255,0.33)" stroke="rgba(190,190,190,0.45)" stroke-width="0.8"/><text x="22" y="11" font-size="32" font-weight="bold" textLength="116" lengthAdjust="spacingAndGlyphs" fill="rgba(255,255,255,0.33)" stroke="rgba(190,190,190,0.45)" stroke-width="0.9">123RF</text><circle cx="144" cy="-15" r="4.5" fill="none" stroke="rgba(190,190,190,0.45)" stroke-width="0.9"/></g><g transform="translate(58.5,884.5) rotate(-45)"><rect x="-14.5" y="-14.5" width="29" height="29" rx="6" fill="none" stroke="rgba(255,255,255,0.33)" stroke-width="4"/><rect x="-16.5" y="-16.5" width="33" height="33" rx="7" fill="none" stroke="rgba(190,190,190,0.45)" stroke-width="0.9"/><rect x="-12.5" y="-12.5" width="25" height="25" rx="4" fill="none" stroke="rgba(190,190,190,0.45)" stroke-width="0.9"/><circle cx="0" cy="-2" r="6" fill="rgba(255,255,255,0.33)" stroke="rgba(190,190,190,0.45)" stroke-width="0.8"/><text x="22" y="11" font-size="32" font-weight="bold" textLength="116" lengthAdjust="spacingAndGlyphs" fill="rgba(255,255,255,0.33)" stroke="rgba(190,190,190,0.45)" stroke-width="0.9">123RF</text><circle cx="144" cy="-15" r="4.5" fill="none" stroke="rgba(190,190,190,0.45)" stroke-width="0.9"/></g><g transform="translate(474.5,841.0) rotate(-45)"><rect x="-38" y="-38" width="76" height="76" rx="9" fill="none" stroke="rgba(255,255,255,0.33)" stroke-width="6"/><rect x="-41" y="-41" width="82" height="82" rx="11" fill="none" stroke="rgba(190,190,190,0.45)" stroke-width="1"/><rect x="-35" y="-35" width="70" height="70" rx="7" fill="none" stroke="rgba(190,190,190,0.45)" stroke-width="1"/><circle cx="0" cy="-9" r="19" fill="rgba(255,255,255,0.33)" stroke="rgba(190,190,190,0.45)" stroke-width="1"/></g><g transform="translate(793.5,884.5) rotate(-45)"><rect x="-14.5" y="-14.5" width="29" height="29" rx="6" fill="none" stroke="rgba(255,255,255,0.33)" stroke-width="4"/><rect x="-16.5" y="-16.5" width="33" height="33" rx="7" fill="none" stroke="rgba(190,190,190,0.45)" stroke-width="0.9"/><rect x="-12.5" y="-12.5" width="25" height="25" rx="4" fill="none" stroke="rgba(190,190,190,0.45)" stroke-width="0.9"/><circle cx="0" cy="-2" r="6" fill="rgba(255,255,255,0.33)" stroke="rgba(190,190,190,0.45)" stroke-width="0.8"/><text x="22" y="11" font-size="32" font-weight="bold" textLength="116" lengthAdjust="spacingAndGlyphs" fill="rgba(255,255,255,0.33)" stroke="rgba(190,190,190,0.45)" stroke-width="0.9">123RF</text><circle cx="144" cy="-15" r="4.5" fill="none" stroke="rgba(190,190,190,0.45)" stroke-width="0.9"/></g><g transform="translate(1209.5,841.0) rotate(-45)"><rect x="-38" y="-38" width="76" height="76" rx="9" fill="none" stroke="rgba(255,255,255,0.33)" stroke-width="6"/><rect x="-41" y="-41" width="82" height="82" rx="11" fill="none" stroke="rgba(190,190,190,0.45)" stroke-width="1"/><rect x="-35" y="-35" width="70" height="70" rx="7" fill="none" stroke="rgba(190,190,190,0.45)" stroke-width="1"/><circle cx="0" cy="-9" r="19" fill="rgba(255,255,255,0.33)" stroke="rgba(190,190,190,0.45)" stroke-width="1"/></g><g transform="translate(426.0,1252.0) rotate(-45)"><rect x="-14.5" y="-14.5" width="29" height="29" rx="6" fill="none" stroke="rgba(255,255,255,0.33)" stroke-width="4"/><rect x="-16.5" y="-16.5" width="33" height="33" rx="7" fill="none" stroke="rgba(190,190,190,0.45)" stroke-width="0.9"/><rect x="-12.5" y="-12.5" width="25" height="25" rx="4" fill="none" stroke="rgba(190,190,190,0.45)" stroke-width="0.9"/><circle cx="0" cy="-2" r="6" fill="rgba(255,255,255,0.33)" stroke="rgba(190,190,190,0.45)" stroke-width="0.8"/><text x="22" y="11" font-size="32" font-weight="bold" textLength="116" lengthAdjust="spacingAndGlyphs" fill="rgba(255,255,255,0.33)" stroke="rgba(190,190,190,0.45)" stroke-width="0.9">123RF</text><circle cx="144" cy="-15" r="4.5" fill="none" stroke="rgba(190,190,190,0.45)" stroke-width="0.9"/></g><g transform="translate(1161.0,1252.0) rotate(-45)"><rect x="-14.5" y="-14.5" width="29" height="29" rx="6" fill="none" stroke="rgba(255,255,255,0.33)" stroke-width="4"/><rect x="-16.5" y="-16.5" width="33" height="33" rx="7" fill="none" stroke="rgba(190,190,190,0.45)" stroke-width="0.9"/><rect x="-12.5" y="-12.5" width="25" height="25" rx="4" fill="none" stroke="rgba(190,190,190,0.45)" stroke-width="0.9"/><circle cx="0" cy="-2" r="6" fill="rgba(255,255,255,0.33)" stroke="rgba(190,190,190,0.45)" stroke-width="0.8"/><text x="22" y="11" font-size="32" font-weight="bold" textLength="116" lengthAdjust="spacingAndGlyphs" fill="rgba(255,255,255,0.33)" stroke="rgba(190,190,190,0.45)" stroke-width="0.9">123RF</text><circle cx="144" cy="-15" r="4.5" fill="none" stroke="rgba(190,190,190,0.45)" stroke-width="0.9"/></g>
</svg>
</body></html>
